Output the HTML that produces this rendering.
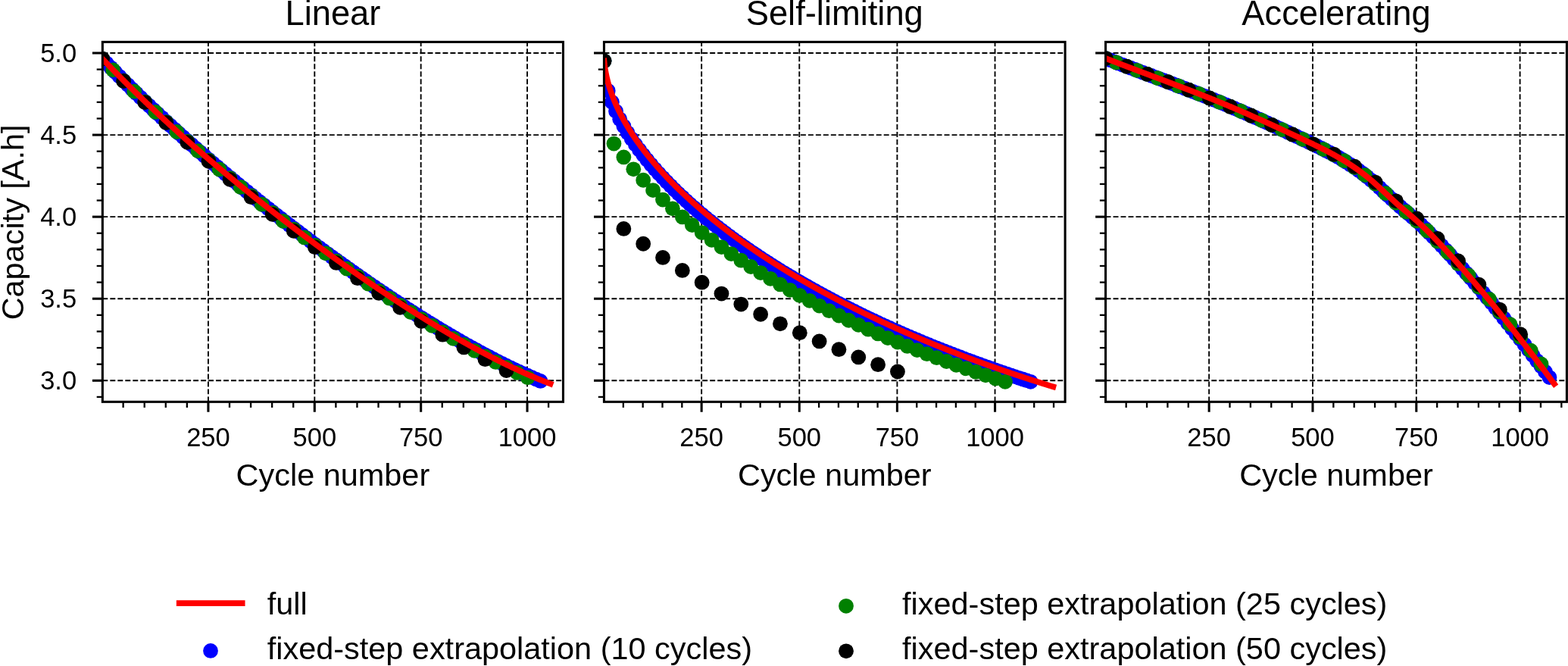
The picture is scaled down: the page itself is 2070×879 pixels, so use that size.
<!DOCTYPE html>
<html><head><meta charset="utf-8"><title>Capacity fade</title>
<style>html,body{margin:0;padding:0;background:#fff;width:2070px;height:879px;overflow:hidden}</style>
</head><body><div style="position:relative;width:2070px;height:879px">
<svg width="2070" height="879" viewBox="0 0 2070 879" style="position:absolute;left:0;top:0"><rect width="100%" height="100%" fill="#fff"/><clipPath id="clip0"><rect x="135.35" y="55.40" width="608.10" height="474.95"/></clipPath><g stroke="#000" stroke-width="1.88" stroke-dasharray="6.97 3.01" fill="none"><line x1="274.93" y1="530.35" x2="274.93" y2="55.40"/><line x1="415.30" y1="530.35" x2="415.30" y2="55.40"/><line x1="555.66" y1="530.35" x2="555.66" y2="55.40"/><line x1="696.03" y1="530.35" x2="696.03" y2="55.40"/><line x1="135.35" y1="502.30" x2="743.45" y2="502.30"/><line x1="135.35" y1="394.23" x2="743.45" y2="394.23"/><line x1="135.35" y1="286.15" x2="743.45" y2="286.15"/><line x1="135.35" y1="178.07" x2="743.45" y2="178.07"/><line x1="135.35" y1="70.00" x2="743.45" y2="70.00"/></g><g clip-path="url(#clip0)"><g fill="#0000ff"><circle cx="135.12" cy="77.56" r="9.90"/><circle cx="140.74" cy="83.45" r="9.90"/><circle cx="146.35" cy="89.28" r="9.90"/><circle cx="151.97" cy="95.06" r="9.90"/><circle cx="157.58" cy="100.78" r="9.90"/><circle cx="163.19" cy="106.45" r="9.90"/><circle cx="168.81" cy="112.07" r="9.90"/><circle cx="174.42" cy="117.64" r="9.90"/><circle cx="180.04" cy="123.16" r="9.90"/><circle cx="185.65" cy="128.64" r="9.90"/><circle cx="191.27" cy="134.06" r="9.90"/><circle cx="196.88" cy="139.44" r="9.90"/><circle cx="202.50" cy="144.78" r="9.90"/><circle cx="208.11" cy="150.08" r="9.90"/><circle cx="213.73" cy="155.33" r="9.90"/><circle cx="219.34" cy="160.54" r="9.90"/><circle cx="224.96" cy="165.71" r="9.90"/><circle cx="230.57" cy="170.84" r="9.90"/><circle cx="236.19" cy="175.93" r="9.90"/><circle cx="241.80" cy="180.99" r="9.90"/><circle cx="247.42" cy="186.00" r="9.90"/><circle cx="253.03" cy="190.99" r="9.90"/><circle cx="258.64" cy="195.93" r="9.90"/><circle cx="264.26" cy="200.85" r="9.90"/><circle cx="269.87" cy="205.72" r="9.90"/><circle cx="275.49" cy="210.57" r="9.90"/><circle cx="281.10" cy="215.39" r="9.90"/><circle cx="286.72" cy="220.17" r="9.90"/><circle cx="292.33" cy="224.92" r="9.90"/><circle cx="297.95" cy="229.64" r="9.90"/><circle cx="303.56" cy="234.33" r="9.90"/><circle cx="309.18" cy="239.00" r="9.90"/><circle cx="314.79" cy="243.63" r="9.90"/><circle cx="320.41" cy="248.24" r="9.90"/><circle cx="326.02" cy="252.82" r="9.90"/><circle cx="331.64" cy="257.37" r="9.90"/><circle cx="337.25" cy="261.89" r="9.90"/><circle cx="342.87" cy="266.39" r="9.90"/><circle cx="348.48" cy="270.87" r="9.90"/><circle cx="354.09" cy="275.31" r="9.90"/><circle cx="359.71" cy="279.74" r="9.90"/><circle cx="365.32" cy="284.14" r="9.90"/><circle cx="370.94" cy="288.51" r="9.90"/><circle cx="376.55" cy="292.86" r="9.90"/><circle cx="382.17" cy="297.18" r="9.90"/><circle cx="387.78" cy="301.48" r="9.90"/><circle cx="393.40" cy="305.76" r="9.90"/><circle cx="399.01" cy="310.01" r="9.90"/><circle cx="404.63" cy="314.24" r="9.90"/><circle cx="410.24" cy="318.45" r="9.90"/><circle cx="415.86" cy="322.63" r="9.90"/><circle cx="421.47" cy="326.79" r="9.90"/><circle cx="427.09" cy="330.93" r="9.90"/><circle cx="432.70" cy="335.05" r="9.90"/><circle cx="438.32" cy="339.14" r="9.90"/><circle cx="443.93" cy="343.20" r="9.90"/><circle cx="449.54" cy="347.25" r="9.90"/><circle cx="455.16" cy="351.27" r="9.90"/><circle cx="460.77" cy="355.26" r="9.90"/><circle cx="466.39" cy="359.23" r="9.90"/><circle cx="472.00" cy="363.18" r="9.90"/><circle cx="477.62" cy="367.11" r="9.90"/><circle cx="483.23" cy="371.00" r="9.90"/><circle cx="488.85" cy="374.88" r="9.90"/><circle cx="494.46" cy="378.73" r="9.90"/><circle cx="500.08" cy="382.55" r="9.90"/><circle cx="505.69" cy="386.35" r="9.90"/><circle cx="511.31" cy="390.12" r="9.90"/><circle cx="516.92" cy="393.86" r="9.90"/><circle cx="522.54" cy="397.58" r="9.90"/><circle cx="528.15" cy="401.27" r="9.90"/><circle cx="533.77" cy="404.93" r="9.90"/><circle cx="539.38" cy="408.56" r="9.90"/><circle cx="544.99" cy="412.17" r="9.90"/><circle cx="550.61" cy="415.74" r="9.90"/><circle cx="556.22" cy="419.29" r="9.90"/><circle cx="561.84" cy="422.80" r="9.90"/><circle cx="567.45" cy="426.28" r="9.90"/><circle cx="573.07" cy="429.73" r="9.90"/><circle cx="578.68" cy="433.14" r="9.90"/><circle cx="584.30" cy="436.53" r="9.90"/><circle cx="589.91" cy="439.87" r="9.90"/><circle cx="595.53" cy="443.19" r="9.90"/><circle cx="601.14" cy="446.46" r="9.90"/><circle cx="606.76" cy="449.70" r="9.90"/><circle cx="612.37" cy="452.90" r="9.90"/><circle cx="617.99" cy="456.07" r="9.90"/><circle cx="623.60" cy="459.19" r="9.90"/><circle cx="629.22" cy="462.27" r="9.90"/><circle cx="634.83" cy="465.32" r="9.90"/><circle cx="640.44" cy="468.31" r="9.90"/><circle cx="646.06" cy="471.27" r="9.90"/><circle cx="651.67" cy="474.18" r="9.90"/><circle cx="657.29" cy="477.05" r="9.90"/><circle cx="662.90" cy="479.87" r="9.90"/><circle cx="668.52" cy="482.64" r="9.90"/><circle cx="674.13" cy="485.36" r="9.90"/><circle cx="679.75" cy="488.03" r="9.90"/><circle cx="685.36" cy="490.65" r="9.90"/><circle cx="690.98" cy="493.22" r="9.90"/><circle cx="696.59" cy="495.73" r="9.90"/><circle cx="702.21" cy="498.19" r="9.90"/><circle cx="707.82" cy="500.59" r="9.90"/><circle cx="713.44" cy="502.94" r="9.90"/></g><g fill="#008000"><circle cx="135.12" cy="77.56" r="9.90"/><circle cx="149.16" cy="92.28" r="9.90"/><circle cx="163.19" cy="106.65" r="9.90"/><circle cx="177.23" cy="120.70" r="9.90"/><circle cx="191.27" cy="134.45" r="9.90"/><circle cx="205.31" cy="147.90" r="9.90"/><circle cx="219.34" cy="161.08" r="9.90"/><circle cx="233.38" cy="174.01" r="9.90"/><circle cx="247.42" cy="186.69" r="9.90"/><circle cx="261.45" cy="199.15" r="9.90"/><circle cx="275.49" cy="211.39" r="9.90"/><circle cx="289.53" cy="223.42" r="9.90"/><circle cx="303.56" cy="235.26" r="9.90"/><circle cx="317.60" cy="246.92" r="9.90"/><circle cx="331.64" cy="258.40" r="9.90"/><circle cx="345.67" cy="269.72" r="9.90"/><circle cx="359.71" cy="280.87" r="9.90"/><circle cx="373.75" cy="291.86" r="9.90"/><circle cx="387.78" cy="302.71" r="9.90"/><circle cx="401.82" cy="313.40" r="9.90"/><circle cx="415.86" cy="323.95" r="9.90"/><circle cx="429.89" cy="334.35" r="9.90"/><circle cx="443.93" cy="344.60" r="9.90"/><circle cx="457.97" cy="354.71" r="9.90"/><circle cx="472.00" cy="364.67" r="9.90"/><circle cx="486.04" cy="374.48" r="9.90"/><circle cx="500.08" cy="384.13" r="9.90"/><circle cx="514.11" cy="393.62" r="9.90"/><circle cx="528.15" cy="402.95" r="9.90"/><circle cx="542.19" cy="412.11" r="9.90"/><circle cx="556.22" cy="421.08" r="9.90"/><circle cx="570.26" cy="429.86" r="9.90"/><circle cx="584.30" cy="438.44" r="9.90"/><circle cx="598.33" cy="446.81" r="9.90"/><circle cx="612.37" cy="454.96" r="9.90"/><circle cx="626.41" cy="462.86" r="9.90"/><circle cx="640.44" cy="470.52" r="9.90"/><circle cx="654.48" cy="477.91" r="9.90"/><circle cx="668.52" cy="485.01" r="9.90"/><circle cx="682.55" cy="491.82" r="9.90"/><circle cx="696.59" cy="498.31" r="9.90"/></g><g fill="#000000"><circle cx="135.12" cy="77.56" r="9.90"/><circle cx="163.19" cy="107.00" r="9.90"/><circle cx="191.27" cy="135.10" r="9.90"/><circle cx="219.34" cy="162.01" r="9.90"/><circle cx="247.42" cy="187.86" r="9.90"/><circle cx="275.49" cy="212.77" r="9.90"/><circle cx="303.56" cy="236.84" r="9.90"/><circle cx="331.64" cy="260.16" r="9.90"/><circle cx="359.71" cy="282.78" r="9.90"/><circle cx="387.78" cy="304.77" r="9.90"/><circle cx="415.86" cy="326.16" r="9.90"/><circle cx="443.93" cy="346.96" r="9.90"/><circle cx="472.00" cy="367.18" r="9.90"/><circle cx="500.08" cy="386.79" r="9.90"/><circle cx="528.15" cy="405.78" r="9.90"/><circle cx="556.22" cy="424.09" r="9.90"/><circle cx="584.30" cy="441.65" r="9.90"/><circle cx="612.37" cy="458.39" r="9.90"/><circle cx="640.44" cy="474.20" r="9.90"/><circle cx="668.52" cy="488.98" r="9.90"/></g><path d="M135.12,77.56 L135.68,78.15 L136.24,78.74 L136.81,79.32 L137.37,79.91 L137.93,80.50 L138.49,81.08 L139.05,81.67 L139.61,82.25 L140.17,82.84 L140.74,83.42 L141.30,84.01 L141.86,84.59 L142.42,85.17 L142.98,85.75 L143.54,86.33 L144.10,86.91 L144.67,87.49 L145.23,88.07 L145.79,88.65 L146.35,89.23 L146.91,89.81 L147.47,90.38 L148.04,90.96 L148.60,91.54 L149.16,92.11 L149.72,92.69 L150.28,93.26 L150.84,93.84 L151.40,94.41 L151.97,94.98 L152.53,95.55 L153.09,96.13 L153.65,96.70 L154.21,97.27 L154.77,97.84 L155.33,98.41 L155.90,98.98 L156.46,99.55 L157.02,100.11 L157.58,100.68 L158.14,101.25 L158.70,101.82 L159.26,102.38 L159.83,102.95 L160.39,103.51 L160.95,104.08 L161.51,104.64 L162.07,105.20 L162.63,105.77 L163.19,106.33 L163.76,106.89 L164.32,107.45 L164.88,108.01 L165.44,108.57 L166.00,109.13 L166.56,109.69 L167.13,110.25 L167.69,110.81 L168.25,111.37 L168.81,111.93 L169.37,112.48 L169.93,113.04 L170.49,113.60 L171.06,114.15 L171.62,114.71 L172.18,115.26 L172.74,115.82 L173.30,116.37 L173.86,116.92 L174.42,117.47 L174.99,118.03 L175.55,118.58 L176.11,119.13 L176.67,119.68 L177.23,120.23 L177.79,120.78 L178.35,121.33 L178.92,121.88 L179.48,122.43 L180.04,122.97 L180.60,123.52 L181.16,124.07 L181.72,124.61 L182.28,125.16 L182.85,125.71 L183.41,126.25 L183.97,126.80 L184.53,127.34 L185.09,127.88 L185.65,128.43 L186.22,128.97 L186.78,129.51 L187.34,130.05 L187.90,130.59 L188.46,131.14 L189.02,131.68 L189.58,132.22 L190.15,132.76 L190.71,133.29 L191.27,133.83 L191.83,134.37 L192.39,134.91 L192.95,135.45 L193.51,135.98 L194.08,136.52 L194.64,137.06 L195.20,137.59 L195.76,138.13 L196.32,138.66 L196.88,139.19 L197.44,139.73 L198.01,140.26 L198.57,140.79 L199.13,141.33 L199.69,141.86 L200.25,142.39 L200.81,142.92 L201.37,143.45 L201.94,143.98 L202.50,144.51 L203.06,145.04 L203.62,145.57 L204.18,146.10 L204.74,146.63 L205.31,147.16 L205.87,147.68 L206.43,148.21 L206.99,148.74 L207.55,149.26 L208.11,149.79 L208.67,150.31 L209.24,150.84 L209.80,151.36 L210.36,151.89 L210.92,152.41 L211.48,152.93 L212.04,153.46 L212.60,153.98 L213.17,154.50 L213.73,155.02 L214.29,155.54 L214.85,156.06 L215.41,156.58 L215.97,157.10 L216.53,157.62 L217.10,158.14 L217.66,158.66 L218.22,159.18 L218.78,159.70 L219.34,160.21 L219.90,160.73 L220.46,161.25 L221.03,161.76 L221.59,162.28 L222.15,162.79 L222.71,163.31 L223.27,163.82 L223.83,164.34 L224.40,164.85 L224.96,165.37 L225.52,165.88 L226.08,166.39 L226.64,166.90 L227.20,167.42 L227.76,167.93 L228.33,168.44 L228.89,168.95 L229.45,169.46 L230.01,169.97 L230.57,170.48 L231.13,170.99 L231.69,171.50 L232.26,172.01 L232.82,172.51 L233.38,173.02 L233.94,173.53 L234.50,174.04 L235.06,174.54 L235.62,175.05 L236.19,175.55 L236.75,176.06 L237.31,176.56 L237.87,177.07 L238.43,177.57 L238.99,178.08 L239.55,178.58 L240.12,179.08 L240.68,179.59 L241.24,180.09 L241.80,180.59 L242.36,181.09 L242.92,181.60 L243.49,182.10 L244.05,182.60 L244.61,183.10 L245.17,183.60 L245.73,184.10 L246.29,184.60 L246.85,185.10 L247.42,185.59 L247.98,186.09 L248.54,186.59 L249.10,187.09 L249.66,187.59 L250.22,188.08 L250.78,188.58 L251.35,189.07 L251.91,189.57 L252.47,190.07 L253.03,190.56 L253.59,191.06 L254.15,191.55 L254.71,192.04 L255.28,192.54 L255.84,193.03 L256.40,193.52 L256.96,194.02 L257.52,194.51 L258.08,195.00 L258.64,195.49 L259.21,195.98 L259.77,196.47 L260.33,196.97 L260.89,197.46 L261.45,197.95 L262.01,198.43 L262.58,198.92 L263.14,199.41 L263.70,199.90 L264.26,200.39 L264.82,200.88 L265.38,201.37 L265.94,201.85 L266.51,202.34 L267.07,202.83 L267.63,203.31 L268.19,203.80 L268.75,204.28 L269.31,204.77 L269.87,205.25 L270.44,205.74 L271.00,206.22 L271.56,206.71 L272.12,207.19 L272.68,207.67 L273.24,208.16 L273.80,208.64 L274.37,209.12 L274.93,209.60 L275.49,210.09 L276.05,210.57 L276.61,211.05 L277.17,211.53 L277.73,212.01 L278.30,212.49 L278.86,212.97 L279.42,213.45 L279.98,213.93 L280.54,214.41 L281.10,214.89 L281.67,215.36 L282.23,215.84 L282.79,216.32 L283.35,216.80 L283.91,217.27 L284.47,217.75 L285.03,218.23 L285.60,218.70 L286.16,219.18 L286.72,219.65 L287.28,220.13 L287.84,220.60 L288.40,221.08 L288.96,221.55 L289.53,222.03 L290.09,222.50 L290.65,222.97 L291.21,223.45 L291.77,223.92 L292.33,224.39 L292.89,224.87 L293.46,225.34 L294.02,225.81 L294.58,226.28 L295.14,226.75 L295.70,227.22 L296.26,227.69 L296.82,228.16 L297.39,228.63 L297.95,229.10 L298.51,229.57 L299.07,230.04 L299.63,230.51 L300.19,230.98 L300.76,231.44 L301.32,231.91 L301.88,232.38 L302.44,232.85 L303.00,233.31 L303.56,233.78 L304.12,234.25 L304.69,234.71 L305.25,235.18 L305.81,235.64 L306.37,236.11 L306.93,236.57 L307.49,237.04 L308.05,237.50 L308.62,237.97 L309.18,238.43 L309.74,238.89 L310.30,239.36 L310.86,239.82 L311.42,240.28 L311.98,240.75 L312.55,241.21 L313.11,241.67 L313.67,242.13 L314.23,242.59 L314.79,243.05 L315.35,243.51 L315.91,243.97 L316.48,244.43 L317.04,244.89 L317.60,245.35 L318.16,245.81 L318.72,246.27 L319.28,246.73 L319.85,247.19 L320.41,247.65 L320.97,248.10 L321.53,248.56 L322.09,249.02 L322.65,249.48 L323.21,249.93 L323.78,250.39 L324.34,250.85 L324.90,251.30 L325.46,251.76 L326.02,252.21 L326.58,252.67 L327.14,253.12 L327.71,253.58 L328.27,254.03 L328.83,254.49 L329.39,254.94 L329.95,255.39 L330.51,255.85 L331.07,256.30 L331.64,256.75 L332.20,257.21 L332.76,257.66 L333.32,258.11 L333.88,258.56 L334.44,259.01 L335.00,259.46 L335.57,259.92 L336.13,260.37 L336.69,260.82 L337.25,261.27 L337.81,261.72 L338.37,262.17 L338.94,262.62 L339.50,263.07 L340.06,263.51 L340.62,263.96 L341.18,264.41 L341.74,264.86 L342.30,265.31 L342.87,265.75 L343.43,266.20 L343.99,266.65 L344.55,267.10 L345.11,267.54 L345.67,267.99 L346.23,268.43 L346.80,268.88 L347.36,269.33 L347.92,269.77 L348.48,270.22 L349.04,270.66 L349.60,271.11 L350.16,271.55 L350.73,271.99 L351.29,272.44 L351.85,272.88 L352.41,273.32 L352.97,273.77 L353.53,274.21 L354.09,274.65 L354.66,275.10 L355.22,275.54 L355.78,275.98 L356.34,276.42 L356.90,276.86 L357.46,277.30 L358.03,277.74 L358.59,278.18 L359.15,278.62 L359.71,279.06 L360.27,279.50 L360.83,279.94 L361.39,280.38 L361.96,280.82 L362.52,281.26 L363.08,281.70 L363.64,282.14 L364.20,282.58 L364.76,283.01 L365.32,283.45 L365.89,283.89 L366.45,284.33 L367.01,284.76 L367.57,285.20 L368.13,285.64 L368.69,286.07 L369.25,286.51 L369.82,286.94 L370.38,287.38 L370.94,287.81 L371.50,288.25 L372.06,288.68 L372.62,289.12 L373.18,289.55 L373.75,289.99 L374.31,290.42 L374.87,290.85 L375.43,291.29 L375.99,291.72 L376.55,292.15 L377.12,292.58 L377.68,293.02 L378.24,293.45 L378.80,293.88 L379.36,294.31 L379.92,294.74 L380.48,295.17 L381.05,295.60 L381.61,296.04 L382.17,296.47 L382.73,296.90 L383.29,297.33 L383.85,297.76 L384.41,298.18 L384.98,298.61 L385.54,299.04 L386.10,299.47 L386.66,299.90 L387.22,300.33 L387.78,300.76 L388.34,301.18 L388.91,301.61 L389.47,302.04 L390.03,302.47 L390.59,302.89 L391.15,303.32 L391.71,303.74 L392.27,304.17 L392.84,304.60 L393.40,305.02 L393.96,305.45 L394.52,305.87 L395.08,306.30 L395.64,306.72 L396.21,307.15 L396.77,307.57 L397.33,308.00 L397.89,308.42 L398.45,308.84 L399.01,309.27 L399.57,309.69 L400.14,310.11 L400.70,310.53 L401.26,310.96 L401.82,311.38 L402.38,311.80 L402.94,312.22 L403.50,312.64 L404.07,313.06 L404.63,313.49 L405.19,313.91 L405.75,314.33 L406.31,314.75 L406.87,315.17 L407.43,315.59 L408.00,316.01 L408.56,316.42 L409.12,316.84 L409.68,317.26 L410.24,317.68 L410.80,318.10 L411.36,318.52 L411.93,318.94 L412.49,319.35 L413.05,319.77 L413.61,320.19 L414.17,320.60 L414.73,321.02 L415.30,321.44 L415.86,321.85 L416.42,322.27 L416.98,322.69 L417.54,323.10 L418.10,323.52 L418.66,323.93 L419.23,324.35 L419.79,324.76 L420.35,325.18 L420.91,325.59 L421.47,326.00 L422.03,326.42 L422.59,326.83 L423.16,327.24 L423.72,327.66 L424.28,328.07 L424.84,328.48 L425.40,328.89 L425.96,329.31 L426.52,329.72 L427.09,330.13 L427.65,330.54 L428.21,330.95 L428.77,331.36 L429.33,331.77 L429.89,332.18 L430.45,332.60 L431.02,333.01 L431.58,333.41 L432.14,333.82 L432.70,334.23 L433.26,334.64 L433.82,335.05 L434.38,335.46 L434.95,335.87 L435.51,336.28 L436.07,336.68 L436.63,337.09 L437.19,337.50 L437.75,337.91 L438.32,338.31 L438.88,338.72 L439.44,339.13 L440.00,339.53 L440.56,339.94 L441.12,340.34 L441.68,340.75 L442.25,341.16 L442.81,341.56 L443.37,341.97 L443.93,342.37 L444.49,342.77 L445.05,343.18 L445.61,343.58 L446.18,343.99 L446.74,344.39 L447.30,344.79 L447.86,345.20 L448.42,345.60 L448.98,346.00 L449.54,346.40 L450.11,346.80 L450.67,347.21 L451.23,347.61 L451.79,348.01 L452.35,348.41 L452.91,348.81 L453.47,349.21 L454.04,349.61 L454.60,350.01 L455.16,350.41 L455.72,350.81 L456.28,351.21 L456.84,351.61 L457.41,352.01 L457.97,352.41 L458.53,352.81 L459.09,353.20 L459.65,353.60 L460.21,354.00 L460.77,354.40 L461.34,354.79 L461.90,355.19 L462.46,355.59 L463.02,355.98 L463.58,356.38 L464.14,356.78 L464.70,357.17 L465.27,357.57 L465.83,357.96 L466.39,358.36 L466.95,358.75 L467.51,359.15 L468.07,359.54 L468.63,359.94 L469.20,360.33 L469.76,360.72 L470.32,361.12 L470.88,361.51 L471.44,361.90 L472.00,362.29 L472.56,362.69 L473.13,363.08 L473.69,363.47 L474.25,363.86 L474.81,364.25 L475.37,364.65 L475.93,365.04 L476.50,365.43 L477.06,365.82 L477.62,366.21 L478.18,366.60 L478.74,366.99 L479.30,367.38 L479.86,367.77 L480.43,368.15 L480.99,368.54 L481.55,368.93 L482.11,369.32 L482.67,369.71 L483.23,370.10 L483.79,370.48 L484.36,370.87 L484.92,371.26 L485.48,371.64 L486.04,372.03 L486.60,372.42 L487.16,372.80 L487.72,373.19 L488.29,373.57 L488.85,373.96 L489.41,374.34 L489.97,374.73 L490.53,375.11 L491.09,375.50 L491.65,375.88 L492.22,376.26 L492.78,376.65 L493.34,377.03 L493.90,377.41 L494.46,377.80 L495.02,378.18 L495.59,378.56 L496.15,378.94 L496.71,379.32 L497.27,379.70 L497.83,380.09 L498.39,380.47 L498.95,380.85 L499.52,381.23 L500.08,381.61 L500.64,381.99 L501.20,382.37 L501.76,382.75 L502.32,383.12 L502.88,383.50 L503.45,383.88 L504.01,384.26 L504.57,384.64 L505.13,385.01 L505.69,385.39 L506.25,385.77 L506.81,386.15 L507.38,386.52 L507.94,386.90 L508.50,387.28 L509.06,387.65 L509.62,388.03 L510.18,388.40 L510.74,388.78 L511.31,389.15 L511.87,389.53 L512.43,389.90 L512.99,390.27 L513.55,390.65 L514.11,391.02 L514.68,391.39 L515.24,391.77 L515.80,392.14 L516.36,392.51 L516.92,392.88 L517.48,393.26 L518.04,393.63 L518.61,394.00 L519.17,394.37 L519.73,394.74 L520.29,395.11 L520.85,395.48 L521.41,395.85 L521.97,396.22 L522.54,396.59 L523.10,396.96 L523.66,397.33 L524.22,397.69 L524.78,398.06 L525.34,398.43 L525.90,398.80 L526.47,399.17 L527.03,399.53 L527.59,399.90 L528.15,400.27 L528.71,400.63 L529.27,401.00 L529.83,401.36 L530.40,401.73 L530.96,402.09 L531.52,402.46 L532.08,402.82 L532.64,403.19 L533.20,403.55 L533.77,403.91 L534.33,404.28 L534.89,404.64 L535.45,405.00 L536.01,405.37 L536.57,405.73 L537.13,406.09 L537.70,406.45 L538.26,406.81 L538.82,407.17 L539.38,407.53 L539.94,407.89 L540.50,408.25 L541.06,408.61 L541.63,408.97 L542.19,409.33 L542.75,409.69 L543.31,410.05 L543.87,410.41 L544.43,410.77 L544.99,411.12 L545.56,411.48 L546.12,411.84 L546.68,412.20 L547.24,412.55 L547.80,412.91 L548.36,413.26 L548.92,413.62 L549.49,413.98 L550.05,414.33 L550.61,414.68 L551.17,415.04 L551.73,415.39 L552.29,415.75 L552.86,416.10 L553.42,416.45 L553.98,416.81 L554.54,417.16 L555.10,417.51 L555.66,417.86 L556.22,418.21 L556.79,418.57 L557.35,418.92 L557.91,419.27 L558.47,419.62 L559.03,419.97 L559.59,420.32 L560.15,420.67 L560.72,421.02 L561.28,421.36 L561.84,421.71 L562.40,422.06 L562.96,422.41 L563.52,422.76 L564.08,423.10 L564.65,423.45 L565.21,423.80 L565.77,424.14 L566.33,424.49 L566.89,424.83 L567.45,425.18 L568.01,425.52 L568.58,425.87 L569.14,426.21 L569.70,426.56 L570.26,426.90 L570.82,427.24 L571.38,427.59 L571.95,427.93 L572.51,428.27 L573.07,428.61 L573.63,428.96 L574.19,429.30 L574.75,429.64 L575.31,429.98 L575.88,430.32 L576.44,430.66 L577.00,431.00 L577.56,431.34 L578.12,431.68 L578.68,432.01 L579.24,432.35 L579.81,432.69 L580.37,433.03 L580.93,433.37 L581.49,433.70 L582.05,434.04 L582.61,434.38 L583.17,434.71 L583.74,435.05 L584.30,435.38 L584.86,435.72 L585.42,436.05 L585.98,436.38 L586.54,436.72 L587.10,437.05 L587.67,437.38 L588.23,437.72 L588.79,438.05 L589.35,438.38 L589.91,438.71 L590.47,439.04 L591.04,439.38 L591.60,439.71 L592.16,440.04 L592.72,440.37 L593.28,440.70 L593.84,441.02 L594.40,441.35 L594.97,441.68 L595.53,442.01 L596.09,442.34 L596.65,442.66 L597.21,442.99 L597.77,443.32 L598.33,443.64 L598.90,443.97 L599.46,444.30 L600.02,444.62 L600.58,444.95 L601.14,445.27 L601.70,445.59 L602.26,445.92 L602.83,446.24 L603.39,446.56 L603.95,446.89 L604.51,447.21 L605.07,447.53 L605.63,447.85 L606.19,448.17 L606.76,448.49 L607.32,448.81 L607.88,449.13 L608.44,449.45 L609.00,449.77 L609.56,450.09 L610.13,450.41 L610.69,450.73 L611.25,451.04 L611.81,451.36 L612.37,451.68 L612.93,451.99 L613.49,452.31 L614.06,452.62 L614.62,452.94 L615.18,453.25 L615.74,453.57 L616.30,453.88 L616.86,454.20 L617.42,454.51 L617.99,454.82 L618.55,455.13 L619.11,455.45 L619.67,455.76 L620.23,456.07 L620.79,456.38 L621.35,456.69 L621.92,457.00 L622.48,457.31 L623.04,457.62 L623.60,457.93 L624.16,458.24 L624.72,458.54 L625.28,458.85 L625.85,459.16 L626.41,459.46 L626.97,459.77 L627.53,460.08 L628.09,460.38 L628.65,460.69 L629.22,460.99 L629.78,461.30 L630.34,461.60 L630.90,461.90 L631.46,462.21 L632.02,462.51 L632.58,462.81 L633.15,463.11 L633.71,463.41 L634.27,463.71 L634.83,464.01 L635.39,464.31 L635.95,464.61 L636.51,464.91 L637.08,465.21 L637.64,465.51 L638.20,465.81 L638.76,466.10 L639.32,466.40 L639.88,466.70 L640.44,466.99 L641.01,467.29 L641.57,467.58 L642.13,467.88 L642.69,468.17 L643.25,468.47 L643.81,468.76 L644.37,469.05 L644.94,469.35 L645.50,469.64 L646.06,469.93 L646.62,470.22 L647.18,470.51 L647.74,470.80 L648.31,471.09 L648.87,471.38 L649.43,471.67 L649.99,471.96 L650.55,472.25 L651.11,472.53 L651.67,472.82 L652.24,473.11 L652.80,473.39 L653.36,473.68 L653.92,473.96 L654.48,474.25 L655.04,474.53 L655.60,474.82 L656.17,475.10 L656.73,475.38 L657.29,475.67 L657.85,475.95 L658.41,476.23 L658.97,476.51 L659.53,476.79 L660.10,477.07 L660.66,477.35 L661.22,477.63 L661.78,477.91 L662.34,478.18 L662.90,478.46 L663.46,478.74 L664.03,479.02 L664.59,479.29 L665.15,479.57 L665.71,479.84 L666.27,480.12 L666.83,480.39 L667.40,480.67 L667.96,480.94 L668.52,481.21 L669.08,481.48 L669.64,481.76 L670.20,482.03 L670.76,482.30 L671.33,482.57 L671.89,482.84 L672.45,483.11 L673.01,483.38 L673.57,483.64 L674.13,483.91 L674.69,484.18 L675.26,484.44 L675.82,484.71 L676.38,484.98 L676.94,485.24 L677.50,485.51 L678.06,485.77 L678.62,486.03 L679.19,486.30 L679.75,486.56 L680.31,486.82 L680.87,487.08 L681.43,487.34 L681.99,487.60 L682.55,487.86 L683.12,488.12 L683.68,488.38 L684.24,488.64 L684.80,488.90 L685.36,489.16 L685.92,489.41 L686.49,489.67 L687.05,489.93 L687.61,490.18 L688.17,490.44 L688.73,490.69 L689.29,490.94 L689.85,491.20 L690.42,491.45 L690.98,491.70 L691.54,491.95 L692.10,492.20 L692.66,492.45 L693.22,492.70 L693.78,492.95 L694.35,493.20 L694.91,493.45 L695.47,493.70 L696.03,493.94 L696.59,494.19 L697.15,494.44 L697.71,494.68 L698.28,494.93 L698.84,495.17 L699.40,495.41 L699.96,495.66 L700.52,495.90 L701.08,496.14 L701.64,496.38 L702.21,496.62 L702.77,496.86 L703.33,497.10 L703.89,497.34 L704.45,497.58 L705.01,497.82 L705.57,498.06 L706.14,498.29 L706.70,498.53 L707.26,498.76 L707.82,499.00 L708.38,499.23 L708.94,499.47 L709.51,499.70 L710.07,499.93 L710.63,500.17 L711.19,500.40 L711.75,500.63 L712.31,500.86 L712.87,501.09 L713.44,501.32 L714.00,501.55 L714.56,501.77 L715.12,502.00 L715.68,502.23 L716.24,502.45 L716.80,502.68 L717.37,502.91 L717.93,503.13 L718.49,503.35 L719.05,503.58 L719.61,503.80 L720.17,504.02 L720.73,504.24 L721.30,504.46 L721.86,504.68 L722.42,504.90 L722.98,505.12 L723.54,505.34 L724.10,505.56 L724.66,505.77 L725.23,505.99 L725.79,506.21 L726.35,506.42 L726.63,506.53" fill="none" stroke="#ff0000" stroke-width="7.67" stroke-linecap="square" stroke-linejoin="round"/></g><g stroke="#000" fill="none"><line x1="162.63" y1="530.35" x2="162.63" y2="538.02" stroke-width="2.30"/><line x1="190.71" y1="530.35" x2="190.71" y2="538.02" stroke-width="2.30"/><line x1="218.78" y1="530.35" x2="218.78" y2="538.02" stroke-width="2.30"/><line x1="246.85" y1="530.35" x2="246.85" y2="538.02" stroke-width="2.30"/><line x1="274.93" y1="530.35" x2="274.93" y2="543.77" stroke-width="3.07"/><line x1="303.00" y1="530.35" x2="303.00" y2="538.02" stroke-width="2.30"/><line x1="331.07" y1="530.35" x2="331.07" y2="538.02" stroke-width="2.30"/><line x1="359.15" y1="530.35" x2="359.15" y2="538.02" stroke-width="2.30"/><line x1="387.22" y1="530.35" x2="387.22" y2="538.02" stroke-width="2.30"/><line x1="415.30" y1="530.35" x2="415.30" y2="543.77" stroke-width="3.07"/><line x1="443.37" y1="530.35" x2="443.37" y2="538.02" stroke-width="2.30"/><line x1="471.44" y1="530.35" x2="471.44" y2="538.02" stroke-width="2.30"/><line x1="499.52" y1="530.35" x2="499.52" y2="538.02" stroke-width="2.30"/><line x1="527.59" y1="530.35" x2="527.59" y2="538.02" stroke-width="2.30"/><line x1="555.66" y1="530.35" x2="555.66" y2="543.77" stroke-width="3.07"/><line x1="583.74" y1="530.35" x2="583.74" y2="538.02" stroke-width="2.30"/><line x1="611.81" y1="530.35" x2="611.81" y2="538.02" stroke-width="2.30"/><line x1="639.88" y1="530.35" x2="639.88" y2="538.02" stroke-width="2.30"/><line x1="667.96" y1="530.35" x2="667.96" y2="538.02" stroke-width="2.30"/><line x1="696.03" y1="530.35" x2="696.03" y2="543.77" stroke-width="3.07"/><line x1="724.10" y1="530.35" x2="724.10" y2="538.02" stroke-width="2.30"/><line x1="135.35" y1="523.92" x2="127.68" y2="523.92" stroke-width="2.30"/><line x1="135.35" y1="502.30" x2="121.93" y2="502.30" stroke-width="3.07"/><line x1="135.35" y1="480.69" x2="127.68" y2="480.69" stroke-width="2.30"/><line x1="135.35" y1="459.07" x2="127.68" y2="459.07" stroke-width="2.30"/><line x1="135.35" y1="437.46" x2="127.68" y2="437.46" stroke-width="2.30"/><line x1="135.35" y1="415.84" x2="127.68" y2="415.84" stroke-width="2.30"/><line x1="135.35" y1="394.23" x2="121.93" y2="394.23" stroke-width="3.07"/><line x1="135.35" y1="372.61" x2="127.68" y2="372.61" stroke-width="2.30"/><line x1="135.35" y1="351.00" x2="127.68" y2="351.00" stroke-width="2.30"/><line x1="135.35" y1="329.38" x2="127.68" y2="329.38" stroke-width="2.30"/><line x1="135.35" y1="307.76" x2="127.68" y2="307.76" stroke-width="2.30"/><line x1="135.35" y1="286.15" x2="121.93" y2="286.15" stroke-width="3.07"/><line x1="135.35" y1="264.54" x2="127.68" y2="264.54" stroke-width="2.30"/><line x1="135.35" y1="242.92" x2="127.68" y2="242.92" stroke-width="2.30"/><line x1="135.35" y1="221.31" x2="127.68" y2="221.31" stroke-width="2.30"/><line x1="135.35" y1="199.69" x2="127.68" y2="199.69" stroke-width="2.30"/><line x1="135.35" y1="178.07" x2="121.93" y2="178.07" stroke-width="3.07"/><line x1="135.35" y1="156.46" x2="127.68" y2="156.46" stroke-width="2.30"/><line x1="135.35" y1="134.84" x2="127.68" y2="134.84" stroke-width="2.30"/><line x1="135.35" y1="113.23" x2="127.68" y2="113.23" stroke-width="2.30"/><line x1="135.35" y1="91.61" x2="127.68" y2="91.61" stroke-width="2.30"/><line x1="135.35" y1="70.00" x2="121.93" y2="70.00" stroke-width="3.07"/></g><rect x="135.35" y="55.40" width="608.10" height="474.95" fill="none" stroke="#000" stroke-width="3.07" stroke-linejoin="miter"/><g font-family="'Liberation Sans', Arial, Helvetica, sans-serif" font-size="34.50" fill="#000"><text x="274.93" y="589.3" text-anchor="middle">250</text><text x="415.30" y="589.3" text-anchor="middle">500</text><text x="555.66" y="589.3" text-anchor="middle">750</text><text x="696.03" y="589.3" text-anchor="middle">1000</text></g><g font-family="'Liberation Sans', Arial, Helvetica, sans-serif" font-size="34.50" fill="#000"><text x="101.1" y="514.35" text-anchor="end">3.0</text><text x="101.1" y="406.28" text-anchor="end">3.5</text><text x="101.1" y="298.20" text-anchor="end">4.0</text><text x="101.1" y="190.12" text-anchor="end">4.5</text><text x="101.1" y="82.05" text-anchor="end">5.0</text></g><text x="439.40" y="641.2" text-anchor="middle" font-family="'Liberation Sans', Arial, Helvetica, sans-serif" font-size="41.45" fill="#000">Cycle number</text><text x="439.40" y="32.9" text-anchor="middle" font-family="'Liberation Sans', Arial, Helvetica, sans-serif" font-size="45.3" fill="#000">Linear</text><clipPath id="clip1"><rect x="797.45" y="55.40" width="608.65" height="474.95"/></clipPath><g stroke="#000" stroke-width="1.88" stroke-dasharray="6.97 3.01" fill="none"><line x1="926.15" y1="530.35" x2="926.15" y2="55.40"/><line x1="1055.28" y1="530.35" x2="1055.28" y2="55.40"/><line x1="1184.41" y1="530.35" x2="1184.41" y2="55.40"/><line x1="1313.54" y1="530.35" x2="1313.54" y2="55.40"/><line x1="797.45" y1="502.30" x2="1406.10" y2="502.30"/><line x1="797.45" y1="394.23" x2="1406.10" y2="394.23"/><line x1="797.45" y1="286.15" x2="1406.10" y2="286.15"/><line x1="797.45" y1="178.07" x2="1406.10" y2="178.07"/><line x1="797.45" y1="70.00" x2="1406.10" y2="70.00"/></g><g clip-path="url(#clip1)"><g fill="#0000ff"><circle cx="797.54" cy="80.40" r="9.90"/><circle cx="802.70" cy="119.74" r="9.90"/><circle cx="807.87" cy="134.80" r="9.90"/><circle cx="813.03" cy="146.82" r="9.90"/><circle cx="818.20" cy="157.23" r="9.90"/><circle cx="823.36" cy="166.58" r="9.90"/><circle cx="828.53" cy="175.15" r="9.90"/><circle cx="833.69" cy="183.13" r="9.90"/><circle cx="838.86" cy="190.63" r="9.90"/><circle cx="844.02" cy="197.73" r="9.90"/><circle cx="849.19" cy="204.49" r="9.90"/><circle cx="854.35" cy="210.96" r="9.90"/><circle cx="859.52" cy="217.17" r="9.90"/><circle cx="864.68" cy="223.16" r="9.90"/><circle cx="869.85" cy="228.94" r="9.90"/><circle cx="875.01" cy="234.54" r="9.90"/><circle cx="880.18" cy="239.97" r="9.90"/><circle cx="885.34" cy="245.25" r="9.90"/><circle cx="890.51" cy="250.38" r="9.90"/><circle cx="895.68" cy="255.39" r="9.90"/><circle cx="900.84" cy="260.27" r="9.90"/><circle cx="906.01" cy="265.04" r="9.90"/><circle cx="911.17" cy="269.70" r="9.90"/><circle cx="916.34" cy="274.26" r="9.90"/><circle cx="921.50" cy="278.73" r="9.90"/><circle cx="926.67" cy="283.11" r="9.90"/><circle cx="931.83" cy="287.40" r="9.90"/><circle cx="937.00" cy="291.62" r="9.90"/><circle cx="942.16" cy="295.75" r="9.90"/><circle cx="947.33" cy="299.82" r="9.90"/><circle cx="952.49" cy="303.81" r="9.90"/><circle cx="957.66" cy="307.73" r="9.90"/><circle cx="962.82" cy="311.59" r="9.90"/><circle cx="967.99" cy="315.39" r="9.90"/><circle cx="973.15" cy="319.13" r="9.90"/><circle cx="978.32" cy="322.82" r="9.90"/><circle cx="983.48" cy="326.44" r="9.90"/><circle cx="988.65" cy="330.02" r="9.90"/><circle cx="993.81" cy="333.54" r="9.90"/><circle cx="998.98" cy="337.01" r="9.90"/><circle cx="1004.14" cy="340.44" r="9.90"/><circle cx="1009.31" cy="343.81" r="9.90"/><circle cx="1014.47" cy="347.15" r="9.90"/><circle cx="1019.64" cy="350.43" r="9.90"/><circle cx="1024.81" cy="353.68" r="9.90"/><circle cx="1029.97" cy="356.88" r="9.90"/><circle cx="1035.14" cy="360.04" r="9.90"/><circle cx="1040.30" cy="363.17" r="9.90"/><circle cx="1045.47" cy="366.25" r="9.90"/><circle cx="1050.63" cy="369.30" r="9.90"/><circle cx="1055.80" cy="372.31" r="9.90"/><circle cx="1060.96" cy="375.28" r="9.90"/><circle cx="1066.13" cy="378.22" r="9.90"/><circle cx="1071.29" cy="381.13" r="9.90"/><circle cx="1076.46" cy="384.00" r="9.90"/><circle cx="1081.62" cy="386.84" r="9.90"/><circle cx="1086.79" cy="389.64" r="9.90"/><circle cx="1091.95" cy="392.42" r="9.90"/><circle cx="1097.12" cy="395.16" r="9.90"/><circle cx="1102.28" cy="397.88" r="9.90"/><circle cx="1107.45" cy="400.56" r="9.90"/><circle cx="1112.61" cy="403.22" r="9.90"/><circle cx="1117.78" cy="405.84" r="9.90"/><circle cx="1122.94" cy="408.44" r="9.90"/><circle cx="1128.11" cy="411.01" r="9.90"/><circle cx="1133.27" cy="413.56" r="9.90"/><circle cx="1138.44" cy="416.08" r="9.90"/><circle cx="1143.60" cy="418.57" r="9.90"/><circle cx="1148.77" cy="421.03" r="9.90"/><circle cx="1153.94" cy="423.47" r="9.90"/><circle cx="1159.10" cy="425.89" r="9.90"/><circle cx="1164.27" cy="428.28" r="9.90"/><circle cx="1169.43" cy="430.65" r="9.90"/><circle cx="1174.60" cy="432.99" r="9.90"/><circle cx="1179.76" cy="435.31" r="9.90"/><circle cx="1184.93" cy="437.60" r="9.90"/><circle cx="1190.09" cy="439.88" r="9.90"/><circle cx="1195.26" cy="442.13" r="9.90"/><circle cx="1200.42" cy="444.36" r="9.90"/><circle cx="1205.59" cy="446.57" r="9.90"/><circle cx="1210.75" cy="448.75" r="9.90"/><circle cx="1215.92" cy="450.92" r="9.90"/><circle cx="1221.08" cy="453.06" r="9.90"/><circle cx="1226.25" cy="455.18" r="9.90"/><circle cx="1231.41" cy="457.28" r="9.90"/><circle cx="1236.58" cy="459.37" r="9.90"/><circle cx="1241.74" cy="461.43" r="9.90"/><circle cx="1246.91" cy="463.47" r="9.90"/><circle cx="1252.07" cy="465.49" r="9.90"/><circle cx="1257.24" cy="467.50" r="9.90"/><circle cx="1262.40" cy="469.48" r="9.90"/><circle cx="1267.57" cy="471.45" r="9.90"/><circle cx="1272.73" cy="473.39" r="9.90"/><circle cx="1277.90" cy="475.32" r="9.90"/><circle cx="1283.07" cy="477.23" r="9.90"/><circle cx="1288.23" cy="479.13" r="9.90"/><circle cx="1293.40" cy="481.00" r="9.90"/><circle cx="1298.56" cy="482.86" r="9.90"/><circle cx="1303.73" cy="484.70" r="9.90"/><circle cx="1308.89" cy="486.52" r="9.90"/><circle cx="1314.06" cy="488.32" r="9.90"/><circle cx="1319.22" cy="490.11" r="9.90"/><circle cx="1324.39" cy="491.88" r="9.90"/><circle cx="1329.55" cy="493.64" r="9.90"/><circle cx="1334.72" cy="495.37" r="9.90"/><circle cx="1339.88" cy="497.09" r="9.90"/><circle cx="1345.05" cy="498.80" r="9.90"/><circle cx="1350.21" cy="500.49" r="9.90"/><circle cx="1355.38" cy="502.16" r="9.90"/><circle cx="1360.54" cy="503.82" r="9.90"/></g><g fill="#008000"><circle cx="797.54" cy="80.40" r="9.90"/><circle cx="810.45" cy="189.56" r="9.90"/><circle cx="823.36" cy="207.44" r="9.90"/><circle cx="836.28" cy="223.32" r="9.90"/><circle cx="849.19" cy="237.76" r="9.90"/><circle cx="862.10" cy="251.11" r="9.90"/><circle cx="875.01" cy="263.57" r="9.90"/><circle cx="887.93" cy="275.31" r="9.90"/><circle cx="900.84" cy="286.43" r="9.90"/><circle cx="913.75" cy="297.01" r="9.90"/><circle cx="926.67" cy="307.11" r="9.90"/><circle cx="939.58" cy="316.79" r="9.90"/><circle cx="952.49" cy="326.08" r="9.90"/><circle cx="965.41" cy="335.03" r="9.90"/><circle cx="978.32" cy="343.66" r="9.90"/><circle cx="991.23" cy="352.00" r="9.90"/><circle cx="1004.14" cy="360.06" r="9.90"/><circle cx="1017.06" cy="367.86" r="9.90"/><circle cx="1029.97" cy="375.43" r="9.90"/><circle cx="1042.88" cy="382.78" r="9.90"/><circle cx="1055.80" cy="389.91" r="9.90"/><circle cx="1068.71" cy="396.84" r="9.90"/><circle cx="1081.62" cy="403.58" r="9.90"/><circle cx="1094.54" cy="410.13" r="9.90"/><circle cx="1107.45" cy="416.52" r="9.90"/><circle cx="1120.36" cy="422.73" r="9.90"/><circle cx="1133.27" cy="428.79" r="9.90"/><circle cx="1146.19" cy="434.70" r="9.90"/><circle cx="1159.10" cy="440.45" r="9.90"/><circle cx="1172.01" cy="446.07" r="9.90"/><circle cx="1184.93" cy="451.54" r="9.90"/><circle cx="1197.84" cy="456.89" r="9.90"/><circle cx="1210.75" cy="462.10" r="9.90"/><circle cx="1223.67" cy="467.19" r="9.90"/><circle cx="1236.58" cy="472.16" r="9.90"/><circle cx="1249.49" cy="477.01" r="9.90"/><circle cx="1262.40" cy="481.75" r="9.90"/><circle cx="1275.32" cy="486.37" r="9.90"/><circle cx="1288.23" cy="490.88" r="9.90"/><circle cx="1301.14" cy="495.29" r="9.90"/><circle cx="1314.06" cy="499.60" r="9.90"/><circle cx="1326.97" cy="503.80" r="9.90"/></g><g fill="#000000"><circle cx="797.54" cy="80.40" r="9.90"/><circle cx="823.36" cy="301.96" r="9.90"/><circle cx="849.19" cy="321.74" r="9.90"/><circle cx="875.01" cy="339.96" r="9.90"/><circle cx="900.84" cy="356.88" r="9.90"/><circle cx="926.67" cy="372.69" r="9.90"/><circle cx="952.49" cy="387.54" r="9.90"/><circle cx="978.32" cy="401.53" r="9.90"/><circle cx="1004.14" cy="414.75" r="9.90"/><circle cx="1029.97" cy="427.28" r="9.90"/><circle cx="1055.80" cy="439.16" r="9.90"/><circle cx="1081.62" cy="450.46" r="9.90"/><circle cx="1107.45" cy="461.20" r="9.90"/><circle cx="1133.27" cy="471.42" r="9.90"/><circle cx="1159.10" cy="481.15" r="9.90"/><circle cx="1184.93" cy="490.43" r="9.90"/></g><path d="M797.54,80.40 L798.05,85.40 L798.57,89.27 L799.09,92.54 L799.60,95.44 L800.12,98.08 L800.64,100.51 L801.15,102.78 L801.67,104.92 L802.19,106.95 L802.70,108.88 L803.22,110.74 L803.73,112.52 L804.25,114.24 L804.77,115.90 L805.28,117.52 L805.80,119.08 L806.32,120.60 L806.83,122.09 L807.35,123.53 L807.87,124.95 L808.38,126.33 L808.90,127.69 L809.42,129.01 L809.93,130.32 L810.45,131.59 L810.97,132.85 L811.48,134.08 L812.00,135.30 L812.52,136.49 L813.03,137.67 L813.55,138.83 L814.07,139.97 L814.58,141.10 L815.10,142.21 L815.61,143.31 L816.13,144.39 L816.65,145.46 L817.16,146.52 L817.68,147.56 L818.20,148.59 L818.71,149.61 L819.23,150.62 L819.75,151.62 L820.26,152.61 L820.78,153.59 L821.30,154.56 L821.81,155.52 L822.33,156.47 L822.85,157.41 L823.36,158.34 L823.88,159.27 L824.40,160.18 L824.91,161.09 L825.43,161.99 L825.95,162.89 L826.46,163.77 L826.98,164.65 L827.49,165.52 L828.01,166.39 L828.53,167.25 L829.04,168.10 L829.56,168.95 L830.08,169.79 L830.59,170.62 L831.11,171.45 L831.63,172.27 L832.14,173.09 L832.66,173.90 L833.18,174.70 L833.69,175.51 L834.21,176.30 L834.73,177.09 L835.24,177.88 L835.76,178.66 L836.28,179.43 L836.79,180.20 L837.31,180.97 L837.83,181.73 L838.34,182.49 L838.86,183.24 L839.37,183.99 L839.89,184.74 L840.41,185.48 L840.92,186.22 L841.44,186.95 L841.96,187.68 L842.47,188.40 L842.99,189.12 L843.51,189.84 L844.02,190.56 L844.54,191.27 L845.06,191.97 L845.57,192.68 L846.09,193.38 L846.61,194.07 L847.12,194.76 L847.64,195.45 L848.16,196.14 L848.67,196.82 L849.19,197.50 L849.71,198.18 L850.22,198.86 L850.74,199.53 L851.25,200.20 L851.77,200.86 L852.29,201.52 L852.80,202.18 L853.32,202.84 L853.84,203.49 L854.35,204.14 L854.87,204.79 L855.39,205.44 L855.90,206.08 L856.42,206.72 L856.94,207.36 L857.45,207.99 L857.97,208.63 L858.49,209.26 L859.00,209.88 L859.52,210.51 L860.04,211.13 L860.55,211.75 L861.07,212.37 L861.59,212.99 L862.10,213.60 L862.62,214.21 L863.13,214.82 L863.65,215.43 L864.17,216.03 L864.68,216.64 L865.20,217.24 L865.72,217.84 L866.23,218.43 L866.75,219.03 L867.27,219.62 L867.78,220.21 L868.30,220.80 L868.82,221.38 L869.33,221.97 L869.85,222.55 L870.37,223.13 L870.88,223.71 L871.40,224.28 L871.92,224.86 L872.43,225.43 L872.95,226.00 L873.46,226.57 L873.98,227.14 L874.50,227.70 L875.01,228.27 L875.53,228.83 L876.05,229.39 L876.56,229.95 L877.08,230.51 L877.60,231.06 L878.11,231.61 L878.63,232.17 L879.15,232.72 L879.66,233.26 L880.18,233.81 L880.70,234.36 L881.21,234.90 L881.73,235.44 L882.25,235.98 L882.76,236.52 L883.28,237.06 L883.80,237.59 L884.31,238.13 L884.83,238.66 L885.34,239.19 L885.86,239.72 L886.38,240.25 L886.89,240.78 L887.41,241.30 L887.93,241.83 L888.44,242.35 L888.96,242.87 L889.48,243.39 L889.99,243.91 L890.51,244.43 L891.03,244.94 L891.54,245.46 L892.06,245.97 L892.58,246.48 L893.09,246.99 L893.61,247.50 L894.13,248.01 L894.64,248.52 L895.16,249.02 L895.68,249.53 L896.19,250.03 L896.71,250.53 L897.22,251.03 L897.74,251.53 L898.26,252.03 L898.77,252.52 L899.29,253.02 L899.81,253.51 L900.32,254.00 L900.84,254.50 L901.36,254.99 L901.87,255.48 L902.39,255.96 L902.91,256.45 L903.42,256.94 L903.94,257.42 L904.46,257.90 L904.97,258.39 L905.49,258.87 L906.01,259.35 L906.52,259.83 L907.04,260.31 L907.56,260.78 L908.07,261.26 L908.59,261.73 L909.10,262.21 L909.62,262.68 L910.14,263.15 L910.65,263.62 L911.17,264.09 L911.69,264.56 L912.20,265.03 L912.72,265.49 L913.24,265.96 L913.75,266.42 L914.27,266.89 L914.79,267.35 L915.30,267.81 L915.82,268.27 L916.34,268.73 L916.85,269.19 L917.37,269.64 L917.89,270.10 L918.40,270.56 L918.92,271.01 L919.44,271.46 L919.95,271.92 L920.47,272.37 L920.98,272.82 L921.50,273.27 L922.02,273.72 L922.53,274.17 L923.05,274.61 L923.57,275.06 L924.08,275.50 L924.60,275.95 L925.12,276.39 L925.63,276.83 L926.15,277.28 L926.67,277.72 L927.18,278.16 L927.70,278.59 L928.22,279.03 L928.73,279.47 L929.25,279.91 L929.77,280.34 L930.28,280.78 L930.80,281.21 L931.32,281.64 L931.83,282.08 L932.35,282.51 L932.86,282.94 L933.38,283.37 L933.90,283.80 L934.41,284.22 L934.93,284.65 L935.45,285.08 L935.96,285.50 L936.48,285.93 L937.00,286.35 L937.51,286.78 L938.03,287.20 L938.55,287.62 L939.06,288.04 L939.58,288.46 L940.10,288.88 L940.61,289.30 L941.13,289.72 L941.65,290.13 L942.16,290.55 L942.68,290.96 L943.20,291.38 L943.71,291.79 L944.23,292.21 L944.74,292.62 L945.26,293.03 L945.78,293.44 L946.29,293.85 L946.81,294.26 L947.33,294.67 L947.84,295.08 L948.36,295.49 L948.88,295.89 L949.39,296.30 L949.91,296.70 L950.43,297.11 L950.94,297.51 L951.46,297.92 L951.98,298.32 L952.49,298.72 L953.01,299.12 L953.53,299.52 L954.04,299.92 L954.56,300.32 L955.08,300.72 L955.59,301.12 L956.11,301.51 L956.62,301.91 L957.14,302.31 L957.66,302.70 L958.17,303.10 L958.69,303.49 L959.21,303.88 L959.72,304.28 L960.24,304.67 L960.76,305.06 L961.27,305.45 L961.79,305.84 L962.31,306.23 L962.82,306.62 L963.34,307.00 L963.86,307.39 L964.37,307.78 L964.89,308.16 L965.41,308.55 L965.92,308.93 L966.44,309.32 L966.96,309.70 L967.47,310.09 L967.99,310.47 L968.50,310.85 L969.02,311.23 L969.54,311.61 L970.05,311.99 L970.57,312.37 L971.09,312.75 L971.60,313.13 L972.12,313.50 L972.64,313.88 L973.15,314.26 L973.67,314.63 L974.19,315.01 L974.70,315.38 L975.22,315.76 L975.74,316.13 L976.25,316.50 L976.77,316.88 L977.29,317.25 L977.80,317.62 L978.32,317.99 L978.84,318.36 L979.35,318.73 L979.87,319.10 L980.38,319.47 L980.90,319.83 L981.42,320.20 L981.93,320.57 L982.45,320.93 L982.97,321.30 L983.48,321.66 L984.00,322.03 L984.52,322.39 L985.03,322.76 L985.55,323.12 L986.07,323.48 L986.58,323.84 L987.10,324.20 L987.62,324.56 L988.13,324.92 L988.65,325.28 L989.17,325.64 L989.68,326.00 L990.20,326.36 L990.71,326.72 L991.23,327.07 L991.75,327.43 L992.26,327.79 L992.78,328.14 L993.30,328.50 L993.81,328.85 L994.33,329.21 L994.85,329.56 L995.36,329.91 L995.88,330.26 L996.40,330.62 L996.91,330.97 L997.43,331.32 L997.95,331.67 L998.46,332.02 L998.98,332.37 L999.50,332.72 L1000.01,333.07 L1000.53,333.41 L1001.05,333.76 L1001.56,334.11 L1002.08,334.45 L1002.59,334.80 L1003.11,335.15 L1003.63,335.49 L1004.14,335.84 L1004.66,336.18 L1005.18,336.52 L1005.69,336.87 L1006.21,337.21 L1006.73,337.55 L1007.24,337.89 L1007.76,338.23 L1008.28,338.57 L1008.79,338.91 L1009.31,339.25 L1009.83,339.59 L1010.34,339.93 L1010.86,340.27 L1011.38,340.61 L1011.89,340.95 L1012.41,341.28 L1012.93,341.62 L1013.44,341.96 L1013.96,342.29 L1014.47,342.63 L1014.99,342.96 L1015.51,343.30 L1016.02,343.63 L1016.54,343.96 L1017.06,344.30 L1017.57,344.63 L1018.09,344.96 L1018.61,345.29 L1019.12,345.62 L1019.64,345.96 L1020.16,346.29 L1020.67,346.62 L1021.19,346.94 L1021.71,347.27 L1022.22,347.60 L1022.74,347.93 L1023.26,348.26 L1023.77,348.59 L1024.29,348.91 L1024.81,349.24 L1025.32,349.57 L1025.84,349.89 L1026.35,350.22 L1026.87,350.54 L1027.39,350.87 L1027.90,351.19 L1028.42,351.51 L1028.94,351.84 L1029.45,352.16 L1029.97,352.48 L1030.49,352.80 L1031.00,353.12 L1031.52,353.44 L1032.04,353.77 L1032.55,354.09 L1033.07,354.41 L1033.59,354.72 L1034.10,355.04 L1034.62,355.36 L1035.14,355.68 L1035.65,356.00 L1036.17,356.32 L1036.69,356.63 L1037.20,356.95 L1037.72,357.27 L1038.23,357.58 L1038.75,357.90 L1039.27,358.21 L1039.78,358.53 L1040.30,358.84 L1040.82,359.15 L1041.33,359.47 L1041.85,359.78 L1042.37,360.09 L1042.88,360.41 L1043.40,360.72 L1043.92,361.03 L1044.43,361.34 L1044.95,361.65 L1045.47,361.96 L1045.98,362.27 L1046.50,362.58 L1047.02,362.89 L1047.53,363.20 L1048.05,363.51 L1048.57,363.81 L1049.08,364.12 L1049.60,364.43 L1050.11,364.74 L1050.63,365.04 L1051.15,365.35 L1051.66,365.66 L1052.18,365.96 L1052.70,366.27 L1053.21,366.57 L1053.73,366.87 L1054.25,367.18 L1054.76,367.48 L1055.28,367.79 L1055.80,368.09 L1056.31,368.39 L1056.83,368.69 L1057.35,368.99 L1057.86,369.30 L1058.38,369.60 L1058.90,369.90 L1059.41,370.20 L1059.93,370.50 L1060.45,370.80 L1060.96,371.10 L1061.48,371.40 L1061.99,371.69 L1062.51,371.99 L1063.03,372.29 L1063.54,372.59 L1064.06,372.88 L1064.58,373.18 L1065.09,373.48 L1065.61,373.77 L1066.13,374.07 L1066.64,374.36 L1067.16,374.66 L1067.68,374.95 L1068.19,375.25 L1068.71,375.54 L1069.23,375.84 L1069.74,376.13 L1070.26,376.42 L1070.78,376.71 L1071.29,377.01 L1071.81,377.30 L1072.33,377.59 L1072.84,377.88 L1073.36,378.17 L1073.87,378.46 L1074.39,378.75 L1074.91,379.04 L1075.42,379.33 L1075.94,379.62 L1076.46,379.91 L1076.97,380.20 L1077.49,380.49 L1078.01,380.78 L1078.52,381.06 L1079.04,381.35 L1079.56,381.64 L1080.07,381.92 L1080.59,382.21 L1081.11,382.50 L1081.62,382.78 L1082.14,383.07 L1082.66,383.35 L1083.17,383.64 L1083.69,383.92 L1084.21,384.20 L1084.72,384.49 L1085.24,384.77 L1085.75,385.05 L1086.27,385.34 L1086.79,385.62 L1087.30,385.90 L1087.82,386.18 L1088.34,386.46 L1088.85,386.75 L1089.37,387.03 L1089.89,387.31 L1090.40,387.59 L1090.92,387.87 L1091.44,388.15 L1091.95,388.42 L1092.47,388.70 L1092.99,388.98 L1093.50,389.26 L1094.02,389.54 L1094.54,389.82 L1095.05,390.09 L1095.57,390.37 L1096.09,390.65 L1096.60,390.92 L1097.12,391.20 L1097.63,391.48 L1098.15,391.75 L1098.67,392.03 L1099.18,392.30 L1099.70,392.58 L1100.22,392.85 L1100.73,393.12 L1101.25,393.40 L1101.77,393.67 L1102.28,393.94 L1102.80,394.22 L1103.32,394.49 L1103.83,394.76 L1104.35,395.03 L1104.87,395.30 L1105.38,395.58 L1105.90,395.85 L1106.42,396.12 L1106.93,396.39 L1107.45,396.66 L1107.97,396.93 L1108.48,397.20 L1109.00,397.47 L1109.51,397.73 L1110.03,398.00 L1110.55,398.27 L1111.06,398.54 L1111.58,398.81 L1112.10,399.08 L1112.61,399.34 L1113.13,399.61 L1113.65,399.88 L1114.16,400.14 L1114.68,400.41 L1115.20,400.67 L1115.71,400.94 L1116.23,401.20 L1116.75,401.47 L1117.26,401.73 L1117.78,402.00 L1118.30,402.26 L1118.81,402.53 L1119.33,402.79 L1119.85,403.05 L1120.36,403.31 L1120.88,403.58 L1121.39,403.84 L1121.91,404.10 L1122.43,404.36 L1122.94,404.62 L1123.46,404.89 L1123.98,405.15 L1124.49,405.41 L1125.01,405.67 L1125.53,405.93 L1126.04,406.19 L1126.56,406.45 L1127.08,406.71 L1127.59,406.97 L1128.11,407.22 L1128.63,407.48 L1129.14,407.74 L1129.66,408.00 L1130.18,408.26 L1130.69,408.51 L1131.21,408.77 L1131.72,409.03 L1132.24,409.28 L1132.76,409.54 L1133.27,409.80 L1133.79,410.05 L1134.31,410.31 L1134.82,410.56 L1135.34,410.82 L1135.86,411.07 L1136.37,411.33 L1136.89,411.58 L1137.41,411.83 L1137.92,412.09 L1138.44,412.34 L1138.96,412.59 L1139.47,412.85 L1139.99,413.10 L1140.51,413.35 L1141.02,413.60 L1141.54,413.86 L1142.06,414.11 L1142.57,414.36 L1143.09,414.61 L1143.60,414.86 L1144.12,415.11 L1144.64,415.36 L1145.15,415.61 L1145.67,415.86 L1146.19,416.11 L1146.70,416.36 L1147.22,416.61 L1147.74,416.86 L1148.25,417.10 L1148.77,417.35 L1149.29,417.60 L1149.80,417.85 L1150.32,418.09 L1150.84,418.34 L1151.35,418.59 L1151.87,418.83 L1152.39,419.08 L1152.90,419.33 L1153.42,419.57 L1153.94,419.82 L1154.45,420.06 L1154.97,420.31 L1155.48,420.55 L1156.00,420.80 L1156.52,421.04 L1157.03,421.29 L1157.55,421.53 L1158.07,421.77 L1158.58,422.02 L1159.10,422.26 L1159.62,422.50 L1160.13,422.75 L1160.65,422.99 L1161.17,423.23 L1161.68,423.47 L1162.20,423.71 L1162.72,423.95 L1163.23,424.20 L1163.75,424.44 L1164.27,424.68 L1164.78,424.92 L1165.30,425.16 L1165.82,425.40 L1166.33,425.64 L1166.85,425.88 L1167.36,426.12 L1167.88,426.35 L1168.40,426.59 L1168.91,426.83 L1169.43,427.07 L1169.95,427.31 L1170.46,427.54 L1170.98,427.78 L1171.50,428.02 L1172.01,428.26 L1172.53,428.49 L1173.05,428.73 L1173.56,428.97 L1174.08,429.20 L1174.60,429.44 L1175.11,429.67 L1175.63,429.91 L1176.15,430.14 L1176.66,430.38 L1177.18,430.61 L1177.70,430.85 L1178.21,431.08 L1178.73,431.31 L1179.24,431.55 L1179.76,431.78 L1180.28,432.01 L1180.79,432.25 L1181.31,432.48 L1181.83,432.71 L1182.34,432.95 L1182.86,433.18 L1183.38,433.41 L1183.89,433.64 L1184.41,433.87 L1184.93,434.10 L1185.44,434.33 L1185.96,434.56 L1186.48,434.79 L1186.99,435.03 L1187.51,435.25 L1188.03,435.48 L1188.54,435.71 L1189.06,435.94 L1189.58,436.17 L1190.09,436.40 L1190.61,436.63 L1191.12,436.86 L1191.64,437.09 L1192.16,437.31 L1192.67,437.54 L1193.19,437.77 L1193.71,438.00 L1194.22,438.22 L1194.74,438.45 L1195.26,438.68 L1195.77,438.90 L1196.29,439.13 L1196.81,439.35 L1197.32,439.58 L1197.84,439.81 L1198.36,440.03 L1198.87,440.26 L1199.39,440.48 L1199.91,440.71 L1200.42,440.93 L1200.94,441.15 L1201.46,441.38 L1201.97,441.60 L1202.49,441.82 L1203.00,442.05 L1203.52,442.27 L1204.04,442.49 L1204.55,442.72 L1205.07,442.94 L1205.59,443.16 L1206.10,443.38 L1206.62,443.60 L1207.14,443.83 L1207.65,444.05 L1208.17,444.27 L1208.69,444.49 L1209.20,444.71 L1209.72,444.93 L1210.24,445.15 L1210.75,445.37 L1211.27,445.59 L1211.79,445.81 L1212.30,446.03 L1212.82,446.25 L1213.34,446.47 L1213.85,446.69 L1214.37,446.90 L1214.88,447.12 L1215.40,447.34 L1215.92,447.56 L1216.43,447.78 L1216.95,447.99 L1217.47,448.21 L1217.98,448.43 L1218.50,448.64 L1219.02,448.86 L1219.53,449.08 L1220.05,449.29 L1220.57,449.51 L1221.08,449.72 L1221.60,449.94 L1222.12,450.16 L1222.63,450.37 L1223.15,450.59 L1223.67,450.80 L1224.18,451.01 L1224.70,451.23 L1225.22,451.44 L1225.73,451.66 L1226.25,451.87 L1226.76,452.08 L1227.28,452.30 L1227.80,452.51 L1228.31,452.72 L1228.83,452.94 L1229.35,453.15 L1229.86,453.36 L1230.38,453.57 L1230.90,453.78 L1231.41,454.00 L1231.93,454.21 L1232.45,454.42 L1232.96,454.63 L1233.48,454.84 L1234.00,455.05 L1234.51,455.26 L1235.03,455.47 L1235.55,455.68 L1236.06,455.89 L1236.58,456.10 L1237.10,456.31 L1237.61,456.52 L1238.13,456.73 L1238.64,456.94 L1239.16,457.14 L1239.68,457.35 L1240.19,457.56 L1240.71,457.77 L1241.23,457.98 L1241.74,458.18 L1242.26,458.39 L1242.78,458.60 L1243.29,458.81 L1243.81,459.01 L1244.33,459.22 L1244.84,459.43 L1245.36,459.63 L1245.88,459.84 L1246.39,460.04 L1246.91,460.25 L1247.43,460.45 L1247.94,460.66 L1248.46,460.86 L1248.97,461.07 L1249.49,461.27 L1250.01,461.48 L1250.52,461.68 L1251.04,461.89 L1251.56,462.09 L1252.07,462.29 L1252.59,462.50 L1253.11,462.70 L1253.62,462.90 L1254.14,463.11 L1254.66,463.31 L1255.17,463.51 L1255.69,463.71 L1256.21,463.92 L1256.72,464.12 L1257.24,464.32 L1257.76,464.52 L1258.27,464.72 L1258.79,464.92 L1259.31,465.12 L1259.82,465.32 L1260.34,465.52 L1260.85,465.72 L1261.37,465.92 L1261.89,466.12 L1262.40,466.32 L1262.92,466.52 L1263.44,466.72 L1263.95,466.92 L1264.47,467.12 L1264.99,467.32 L1265.50,467.52 L1266.02,467.72 L1266.54,467.92 L1267.05,468.11 L1267.57,468.31 L1268.09,468.51 L1268.60,468.71 L1269.12,468.90 L1269.64,469.10 L1270.15,469.30 L1270.67,469.49 L1271.19,469.69 L1271.70,469.89 L1272.22,470.08 L1272.73,470.28 L1273.25,470.48 L1273.77,470.67 L1274.28,470.87 L1274.80,471.06 L1275.32,471.26 L1275.83,471.45 L1276.35,471.65 L1276.87,471.84 L1277.38,472.04 L1277.90,472.23 L1278.42,472.42 L1278.93,472.62 L1279.45,472.81 L1279.97,473.00 L1280.48,473.20 L1281.00,473.39 L1281.52,473.58 L1282.03,473.78 L1282.55,473.97 L1283.07,474.16 L1283.58,474.35 L1284.10,474.55 L1284.61,474.74 L1285.13,474.93 L1285.65,475.12 L1286.16,475.31 L1286.68,475.50 L1287.20,475.69 L1287.71,475.88 L1288.23,476.07 L1288.75,476.26 L1289.26,476.45 L1289.78,476.64 L1290.30,476.83 L1290.81,477.02 L1291.33,477.21 L1291.85,477.40 L1292.36,477.59 L1292.88,477.78 L1293.40,477.97 L1293.91,478.16 L1294.43,478.35 L1294.95,478.53 L1295.46,478.72 L1295.98,478.91 L1296.49,479.10 L1297.01,479.29 L1297.53,479.47 L1298.04,479.66 L1298.56,479.85 L1299.08,480.03 L1299.59,480.22 L1300.11,480.41 L1300.63,480.59 L1301.14,480.78 L1301.66,480.96 L1302.18,481.15 L1302.69,481.34 L1303.21,481.52 L1303.73,481.71 L1304.24,481.89 L1304.76,482.08 L1305.28,482.26 L1305.79,482.45 L1306.31,482.63 L1306.83,482.81 L1307.34,483.00 L1307.86,483.18 L1308.37,483.36 L1308.89,483.55 L1309.41,483.73 L1309.92,483.91 L1310.44,484.10 L1310.96,484.28 L1311.47,484.46 L1311.99,484.65 L1312.51,484.83 L1313.02,485.01 L1313.54,485.19 L1314.06,485.37 L1314.57,485.55 L1315.09,485.74 L1315.61,485.92 L1316.12,486.10 L1316.64,486.28 L1317.16,486.46 L1317.67,486.64 L1318.19,486.82 L1318.71,487.00 L1319.22,487.18 L1319.74,487.36 L1320.25,487.54 L1320.77,487.72 L1321.29,487.90 L1321.80,488.08 L1322.32,488.26 L1322.84,488.44 L1323.35,488.62 L1323.87,488.79 L1324.39,488.97 L1324.90,489.15 L1325.42,489.33 L1325.94,489.51 L1326.45,489.68 L1326.97,489.86 L1327.49,490.04 L1328.00,490.22 L1328.52,490.39 L1329.04,490.57 L1329.55,490.75 L1330.07,490.92 L1330.59,491.10 L1331.10,491.28 L1331.62,491.45 L1332.13,491.63 L1332.65,491.80 L1333.17,491.98 L1333.68,492.15 L1334.20,492.33 L1334.72,492.50 L1335.23,492.68 L1335.75,492.85 L1336.27,493.03 L1336.78,493.20 L1337.30,493.38 L1337.82,493.55 L1338.33,493.72 L1338.85,493.90 L1339.37,494.07 L1339.88,494.24 L1340.40,494.42 L1340.92,494.59 L1341.43,494.76 L1341.95,494.94 L1342.47,495.11 L1342.98,495.28 L1343.50,495.45 L1344.01,495.63 L1344.53,495.80 L1345.05,495.97 L1345.56,496.14 L1346.08,496.31 L1346.60,496.48 L1347.11,496.65 L1347.63,496.83 L1348.15,497.00 L1348.66,497.17 L1349.18,497.34 L1349.70,497.51 L1350.21,497.68 L1350.73,497.85 L1351.25,498.02 L1351.76,498.19 L1352.28,498.36 L1352.80,498.53 L1353.31,498.70 L1353.83,498.86 L1354.35,499.03 L1354.86,499.20 L1355.38,499.37 L1355.89,499.54 L1356.41,499.71 L1356.93,499.88 L1357.44,500.04 L1357.96,500.21 L1358.48,500.38 L1358.99,500.55 L1359.51,500.71 L1360.03,500.88 L1360.54,501.05 L1361.06,501.21 L1361.58,501.38 L1362.09,501.55 L1362.61,501.71 L1363.13,501.88 L1363.64,502.05 L1364.16,502.21 L1364.68,502.38 L1365.19,502.54 L1365.71,502.71 L1366.23,502.87 L1366.74,503.04 L1367.26,503.20 L1367.77,503.37 L1368.29,503.53 L1368.81,503.70 L1369.32,503.86 L1369.84,504.03 L1370.36,504.19 L1370.87,504.35 L1371.39,504.52 L1371.91,504.68 L1372.42,504.84 L1372.94,505.01 L1373.46,505.17 L1373.97,505.33 L1374.49,505.50 L1375.01,505.66 L1375.52,505.82 L1376.04,505.98 L1376.56,506.15 L1377.07,506.31 L1377.59,506.47 L1378.11,506.63 L1378.62,506.79 L1379.14,506.95 L1379.65,507.11 L1380.17,507.28 L1380.69,507.44 L1381.20,507.60 L1381.72,507.76 L1382.24,507.92 L1382.75,508.08 L1383.27,508.24 L1383.79,508.40 L1384.30,508.56 L1384.82,508.72 L1385.34,508.88 L1385.85,509.04 L1386.37,509.20 L1386.89,509.36 L1387.40,509.52 L1387.92,509.67 L1388.44,509.83 L1388.95,509.99 L1389.47,510.15 L1389.98,510.31 L1390.40,510.43" fill="none" stroke="#ff0000" stroke-width="7.67" stroke-linecap="square" stroke-linejoin="round"/></g><g stroke="#000" fill="none"><line x1="822.85" y1="530.35" x2="822.85" y2="538.02" stroke-width="2.30"/><line x1="848.67" y1="530.35" x2="848.67" y2="538.02" stroke-width="2.30"/><line x1="874.50" y1="530.35" x2="874.50" y2="538.02" stroke-width="2.30"/><line x1="900.32" y1="530.35" x2="900.32" y2="538.02" stroke-width="2.30"/><line x1="926.15" y1="530.35" x2="926.15" y2="543.77" stroke-width="3.07"/><line x1="951.98" y1="530.35" x2="951.98" y2="538.02" stroke-width="2.30"/><line x1="977.80" y1="530.35" x2="977.80" y2="538.02" stroke-width="2.30"/><line x1="1003.63" y1="530.35" x2="1003.63" y2="538.02" stroke-width="2.30"/><line x1="1029.45" y1="530.35" x2="1029.45" y2="538.02" stroke-width="2.30"/><line x1="1055.28" y1="530.35" x2="1055.28" y2="543.77" stroke-width="3.07"/><line x1="1081.11" y1="530.35" x2="1081.11" y2="538.02" stroke-width="2.30"/><line x1="1106.93" y1="530.35" x2="1106.93" y2="538.02" stroke-width="2.30"/><line x1="1132.76" y1="530.35" x2="1132.76" y2="538.02" stroke-width="2.30"/><line x1="1158.58" y1="530.35" x2="1158.58" y2="538.02" stroke-width="2.30"/><line x1="1184.41" y1="530.35" x2="1184.41" y2="543.77" stroke-width="3.07"/><line x1="1210.24" y1="530.35" x2="1210.24" y2="538.02" stroke-width="2.30"/><line x1="1236.06" y1="530.35" x2="1236.06" y2="538.02" stroke-width="2.30"/><line x1="1261.89" y1="530.35" x2="1261.89" y2="538.02" stroke-width="2.30"/><line x1="1287.71" y1="530.35" x2="1287.71" y2="538.02" stroke-width="2.30"/><line x1="1313.54" y1="530.35" x2="1313.54" y2="543.77" stroke-width="3.07"/><line x1="1339.37" y1="530.35" x2="1339.37" y2="538.02" stroke-width="2.30"/><line x1="1365.19" y1="530.35" x2="1365.19" y2="538.02" stroke-width="2.30"/><line x1="1391.02" y1="530.35" x2="1391.02" y2="538.02" stroke-width="2.30"/><line x1="797.45" y1="523.92" x2="789.78" y2="523.92" stroke-width="2.30"/><line x1="797.45" y1="502.30" x2="784.03" y2="502.30" stroke-width="3.07"/><line x1="797.45" y1="480.69" x2="789.78" y2="480.69" stroke-width="2.30"/><line x1="797.45" y1="459.07" x2="789.78" y2="459.07" stroke-width="2.30"/><line x1="797.45" y1="437.46" x2="789.78" y2="437.46" stroke-width="2.30"/><line x1="797.45" y1="415.84" x2="789.78" y2="415.84" stroke-width="2.30"/><line x1="797.45" y1="394.23" x2="784.03" y2="394.23" stroke-width="3.07"/><line x1="797.45" y1="372.61" x2="789.78" y2="372.61" stroke-width="2.30"/><line x1="797.45" y1="351.00" x2="789.78" y2="351.00" stroke-width="2.30"/><line x1="797.45" y1="329.38" x2="789.78" y2="329.38" stroke-width="2.30"/><line x1="797.45" y1="307.76" x2="789.78" y2="307.76" stroke-width="2.30"/><line x1="797.45" y1="286.15" x2="784.03" y2="286.15" stroke-width="3.07"/><line x1="797.45" y1="264.54" x2="789.78" y2="264.54" stroke-width="2.30"/><line x1="797.45" y1="242.92" x2="789.78" y2="242.92" stroke-width="2.30"/><line x1="797.45" y1="221.31" x2="789.78" y2="221.31" stroke-width="2.30"/><line x1="797.45" y1="199.69" x2="789.78" y2="199.69" stroke-width="2.30"/><line x1="797.45" y1="178.07" x2="784.03" y2="178.07" stroke-width="3.07"/><line x1="797.45" y1="156.46" x2="789.78" y2="156.46" stroke-width="2.30"/><line x1="797.45" y1="134.84" x2="789.78" y2="134.84" stroke-width="2.30"/><line x1="797.45" y1="113.23" x2="789.78" y2="113.23" stroke-width="2.30"/><line x1="797.45" y1="91.61" x2="789.78" y2="91.61" stroke-width="2.30"/><line x1="797.45" y1="70.00" x2="784.03" y2="70.00" stroke-width="3.07"/></g><rect x="797.45" y="55.40" width="608.65" height="474.95" fill="none" stroke="#000" stroke-width="3.07" stroke-linejoin="miter"/><g font-family="'Liberation Sans', Arial, Helvetica, sans-serif" font-size="34.50" fill="#000"><text x="926.15" y="589.3" text-anchor="middle">250</text><text x="1055.28" y="589.3" text-anchor="middle">500</text><text x="1184.41" y="589.3" text-anchor="middle">750</text><text x="1313.54" y="589.3" text-anchor="middle">1000</text></g><text x="1101.78" y="641.2" text-anchor="middle" font-family="'Liberation Sans', Arial, Helvetica, sans-serif" font-size="41.45" fill="#000">Cycle number</text><text x="1101.78" y="32.9" text-anchor="middle" font-family="'Liberation Sans', Arial, Helvetica, sans-serif" font-size="45.3" fill="#000">Self-limiting</text><clipPath id="clip2"><rect x="1459.55" y="55.40" width="608.85" height="474.95"/></clipPath><g stroke="#000" stroke-width="1.88" stroke-dasharray="6.97 3.01" fill="none"><line x1="1596.14" y1="530.35" x2="1596.14" y2="55.40"/><line x1="1732.96" y1="530.35" x2="1732.96" y2="55.40"/><line x1="1869.79" y1="530.35" x2="1869.79" y2="55.40"/><line x1="2006.61" y1="530.35" x2="2006.61" y2="55.40"/><line x1="1459.55" y1="502.30" x2="2068.40" y2="502.30"/><line x1="1459.55" y1="394.23" x2="2068.40" y2="394.23"/><line x1="1459.55" y1="286.15" x2="2068.40" y2="286.15"/><line x1="1459.55" y1="178.07" x2="2068.40" y2="178.07"/><line x1="1459.55" y1="70.00" x2="2068.40" y2="70.00"/></g><g clip-path="url(#clip2)"><g fill="#0000ff"><circle cx="1459.87" cy="77.07" r="9.90"/><circle cx="1465.34" cy="79.20" r="9.90"/><circle cx="1470.81" cy="81.32" r="9.90"/><circle cx="1476.29" cy="83.43" r="9.90"/><circle cx="1481.76" cy="85.53" r="9.90"/><circle cx="1487.23" cy="87.61" r="9.90"/><circle cx="1492.70" cy="89.69" r="9.90"/><circle cx="1498.18" cy="91.76" r="9.90"/><circle cx="1503.65" cy="93.83" r="9.90"/><circle cx="1509.12" cy="95.89" r="9.90"/><circle cx="1514.60" cy="97.94" r="9.90"/><circle cx="1520.07" cy="100.00" r="9.90"/><circle cx="1525.54" cy="102.06" r="9.90"/><circle cx="1531.01" cy="104.11" r="9.90"/><circle cx="1536.49" cy="106.17" r="9.90"/><circle cx="1541.96" cy="108.23" r="9.90"/><circle cx="1547.43" cy="110.30" r="9.90"/><circle cx="1552.91" cy="112.38" r="9.90"/><circle cx="1558.38" cy="114.46" r="9.90"/><circle cx="1563.85" cy="116.56" r="9.90"/><circle cx="1569.33" cy="118.66" r="9.90"/><circle cx="1574.80" cy="120.78" r="9.90"/><circle cx="1580.27" cy="122.91" r="9.90"/><circle cx="1585.74" cy="125.06" r="9.90"/><circle cx="1591.22" cy="127.22" r="9.90"/><circle cx="1596.69" cy="129.41" r="9.90"/><circle cx="1602.16" cy="131.61" r="9.90"/><circle cx="1607.64" cy="133.83" r="9.90"/><circle cx="1613.11" cy="136.08" r="9.90"/><circle cx="1618.58" cy="138.35" r="9.90"/><circle cx="1624.05" cy="140.65" r="9.90"/><circle cx="1629.53" cy="142.97" r="9.90"/><circle cx="1635.00" cy="145.32" r="9.90"/><circle cx="1640.47" cy="147.68" r="9.90"/><circle cx="1645.95" cy="150.07" r="9.90"/><circle cx="1651.42" cy="152.48" r="9.90"/><circle cx="1656.89" cy="154.91" r="9.90"/><circle cx="1662.36" cy="157.36" r="9.90"/><circle cx="1667.84" cy="159.83" r="9.90"/><circle cx="1673.31" cy="162.31" r="9.90"/><circle cx="1678.78" cy="164.80" r="9.90"/><circle cx="1684.26" cy="167.31" r="9.90"/><circle cx="1689.73" cy="169.83" r="9.90"/><circle cx="1695.20" cy="172.36" r="9.90"/><circle cx="1700.67" cy="174.90" r="9.90"/><circle cx="1706.15" cy="177.46" r="9.90"/><circle cx="1711.62" cy="180.01" r="9.90"/><circle cx="1717.09" cy="182.58" r="9.90"/><circle cx="1722.57" cy="185.15" r="9.90"/><circle cx="1728.04" cy="187.73" r="9.90"/><circle cx="1733.51" cy="190.34" r="9.90"/><circle cx="1738.99" cy="192.99" r="9.90"/><circle cx="1744.46" cy="195.70" r="9.90"/><circle cx="1749.93" cy="198.47" r="9.90"/><circle cx="1755.40" cy="201.33" r="9.90"/><circle cx="1760.88" cy="204.29" r="9.90"/><circle cx="1766.35" cy="207.37" r="9.90"/><circle cx="1771.82" cy="210.57" r="9.90"/><circle cx="1777.30" cy="213.91" r="9.90"/><circle cx="1782.77" cy="217.41" r="9.90"/><circle cx="1788.24" cy="221.09" r="9.90"/><circle cx="1793.71" cy="224.95" r="9.90"/><circle cx="1799.19" cy="229.01" r="9.90"/><circle cx="1804.66" cy="233.29" r="9.90"/><circle cx="1810.13" cy="237.81" r="9.90"/><circle cx="1815.61" cy="242.57" r="9.90"/><circle cx="1821.08" cy="247.55" r="9.90"/><circle cx="1826.55" cy="252.65" r="9.90"/><circle cx="1832.02" cy="257.78" r="9.90"/><circle cx="1837.50" cy="262.87" r="9.90"/><circle cx="1842.97" cy="267.86" r="9.90"/><circle cx="1848.44" cy="272.69" r="9.90"/><circle cx="1853.92" cy="277.38" r="9.90"/><circle cx="1859.39" cy="282.01" r="9.90"/><circle cx="1864.86" cy="286.69" r="9.90"/><circle cx="1870.33" cy="291.50" r="9.90"/><circle cx="1875.81" cy="296.52" r="9.90"/><circle cx="1881.28" cy="301.75" r="9.90"/><circle cx="1886.75" cy="307.15" r="9.90"/><circle cx="1892.23" cy="312.71" r="9.90"/><circle cx="1897.70" cy="318.40" r="9.90"/><circle cx="1903.17" cy="324.20" r="9.90"/><circle cx="1908.65" cy="330.09" r="9.90"/><circle cx="1914.12" cy="336.06" r="9.90"/><circle cx="1919.59" cy="342.11" r="9.90"/><circle cx="1925.06" cy="348.23" r="9.90"/><circle cx="1930.54" cy="354.41" r="9.90"/><circle cx="1936.01" cy="360.67" r="9.90"/><circle cx="1941.48" cy="367.00" r="9.90"/><circle cx="1946.96" cy="373.39" r="9.90"/><circle cx="1952.43" cy="379.85" r="9.90"/><circle cx="1957.90" cy="386.38" r="9.90"/><circle cx="1963.37" cy="392.96" r="9.90"/><circle cx="1968.85" cy="399.60" r="9.90"/><circle cx="1974.32" cy="406.31" r="9.90"/><circle cx="1979.79" cy="413.07" r="9.90"/><circle cx="1985.27" cy="419.88" r="9.90"/><circle cx="1990.74" cy="426.75" r="9.90"/><circle cx="1996.21" cy="433.67" r="9.90"/><circle cx="2001.68" cy="440.65" r="9.90"/><circle cx="2007.16" cy="447.67" r="9.90"/><circle cx="2012.63" cy="454.74" r="9.90"/><circle cx="2018.10" cy="461.85" r="9.90"/><circle cx="2023.58" cy="469.01" r="9.90"/><circle cx="2029.05" cy="476.21" r="9.90"/><circle cx="2034.52" cy="483.45" r="9.90"/><circle cx="2039.99" cy="490.74" r="9.90"/><circle cx="2045.47" cy="498.05" r="9.90"/></g><g fill="#008000"><circle cx="1459.87" cy="77.07" r="9.90"/><circle cx="1473.55" cy="82.38" r="9.90"/><circle cx="1487.23" cy="87.61" r="9.90"/><circle cx="1500.91" cy="92.80" r="9.90"/><circle cx="1514.60" cy="97.94" r="9.90"/><circle cx="1528.28" cy="103.08" r="9.90"/><circle cx="1541.96" cy="108.23" r="9.90"/><circle cx="1555.64" cy="113.42" r="9.90"/><circle cx="1569.33" cy="118.66" r="9.90"/><circle cx="1583.01" cy="123.98" r="9.90"/><circle cx="1596.69" cy="129.41" r="9.90"/><circle cx="1610.37" cy="134.95" r="9.90"/><circle cx="1624.05" cy="140.65" r="9.90"/><circle cx="1637.74" cy="146.50" r="9.90"/><circle cx="1651.42" cy="152.48" r="9.90"/><circle cx="1665.10" cy="158.59" r="9.90"/><circle cx="1678.78" cy="164.80" r="9.90"/><circle cx="1692.47" cy="171.10" r="9.90"/><circle cx="1706.15" cy="177.46" r="9.90"/><circle cx="1719.83" cy="183.86" r="9.90"/><circle cx="1733.51" cy="190.34" r="9.90"/><circle cx="1747.19" cy="197.08" r="9.90"/><circle cx="1760.88" cy="204.29" r="9.90"/><circle cx="1774.56" cy="212.22" r="9.90"/><circle cx="1788.24" cy="221.09" r="9.90"/><circle cx="1801.92" cy="231.12" r="9.90"/><circle cx="1815.61" cy="242.57" r="9.90"/><circle cx="1829.29" cy="255.22" r="9.90"/><circle cx="1842.97" cy="267.86" r="9.90"/><circle cx="1856.65" cy="279.70" r="9.90"/><circle cx="1870.33" cy="291.50" r="9.90"/><circle cx="1884.02" cy="304.43" r="9.90"/><circle cx="1897.70" cy="318.40" r="9.90"/><circle cx="1911.38" cy="333.07" r="9.90"/><circle cx="1925.06" cy="348.21" r="9.90"/><circle cx="1938.75" cy="363.40" r="9.90"/><circle cx="1952.43" cy="379.00" r="9.90"/><circle cx="1966.11" cy="395.01" r="9.90"/><circle cx="1979.79" cy="411.38" r="9.90"/><circle cx="1993.48" cy="428.11" r="9.90"/><circle cx="2007.16" cy="445.16" r="9.90"/><circle cx="2020.84" cy="462.67" r="9.90"/><circle cx="2034.52" cy="480.45" r="9.90"/></g><g fill="#000000"><circle cx="1459.87" cy="77.07" r="9.90"/><circle cx="1487.23" cy="87.61" r="9.90"/><circle cx="1514.60" cy="97.94" r="9.90"/><circle cx="1541.96" cy="108.23" r="9.90"/><circle cx="1569.33" cy="118.66" r="9.90"/><circle cx="1596.69" cy="129.41" r="9.90"/><circle cx="1624.05" cy="140.65" r="9.90"/><circle cx="1651.42" cy="152.48" r="9.90"/><circle cx="1678.78" cy="164.80" r="9.90"/><circle cx="1706.15" cy="177.46" r="9.90"/><circle cx="1733.51" cy="190.33" r="9.90"/><circle cx="1760.88" cy="203.61" r="9.90"/><circle cx="1788.24" cy="219.74" r="9.90"/><circle cx="1815.61" cy="240.56" r="9.90"/><circle cx="1842.97" cy="265.35" r="9.90"/><circle cx="1870.33" cy="288.49" r="9.90"/><circle cx="1897.70" cy="314.89" r="9.90"/><circle cx="1925.06" cy="344.39" r="9.90"/><circle cx="1952.43" cy="375.68" r="9.90"/><circle cx="1979.79" cy="408.53" r="9.90"/><circle cx="2007.16" cy="441.17" r="9.90"/></g><path d="M1459.87,77.07 L1460.41,77.28 L1460.96,77.49 L1461.51,77.71 L1462.06,77.92 L1462.60,78.14 L1463.15,78.35 L1463.70,78.56 L1464.25,78.78 L1464.79,78.99 L1465.34,79.20 L1465.89,79.41 L1466.43,79.63 L1466.98,79.84 L1467.53,80.05 L1468.08,80.26 L1468.62,80.48 L1469.17,80.69 L1469.72,80.90 L1470.27,81.11 L1470.81,81.32 L1471.36,81.53 L1471.91,81.75 L1472.45,81.96 L1473.00,82.17 L1473.55,82.38 L1474.10,82.59 L1474.64,82.80 L1475.19,83.01 L1475.74,83.22 L1476.29,83.43 L1476.83,83.64 L1477.38,83.85 L1477.93,84.06 L1478.48,84.27 L1479.02,84.48 L1479.57,84.69 L1480.12,84.90 L1480.66,85.11 L1481.21,85.32 L1481.76,85.53 L1482.31,85.74 L1482.85,85.95 L1483.40,86.16 L1483.95,86.36 L1484.50,86.57 L1485.04,86.78 L1485.59,86.99 L1486.14,87.20 L1486.68,87.41 L1487.23,87.61 L1487.78,87.82 L1488.33,88.03 L1488.87,88.24 L1489.42,88.45 L1489.97,88.65 L1490.52,88.86 L1491.06,89.07 L1491.61,89.28 L1492.16,89.49 L1492.70,89.69 L1493.25,89.90 L1493.80,90.11 L1494.35,90.31 L1494.89,90.52 L1495.44,90.73 L1495.99,90.94 L1496.54,91.14 L1497.08,91.35 L1497.63,91.56 L1498.18,91.76 L1498.72,91.97 L1499.27,92.18 L1499.82,92.38 L1500.37,92.59 L1500.91,92.80 L1501.46,93.00 L1502.01,93.21 L1502.56,93.42 L1503.10,93.62 L1503.65,93.83 L1504.20,94.03 L1504.75,94.24 L1505.29,94.45 L1505.84,94.65 L1506.39,94.86 L1506.93,95.06 L1507.48,95.27 L1508.03,95.48 L1508.58,95.68 L1509.12,95.89 L1509.67,96.09 L1510.22,96.30 L1510.77,96.51 L1511.31,96.71 L1511.86,96.92 L1512.41,97.12 L1512.95,97.33 L1513.50,97.53 L1514.05,97.74 L1514.60,97.94 L1515.14,98.15 L1515.69,98.36 L1516.24,98.56 L1516.79,98.77 L1517.33,98.97 L1517.88,99.18 L1518.43,99.38 L1518.97,99.59 L1519.52,99.79 L1520.07,100.00 L1520.62,100.21 L1521.16,100.41 L1521.71,100.62 L1522.26,100.82 L1522.81,101.03 L1523.35,101.23 L1523.90,101.44 L1524.45,101.64 L1524.99,101.85 L1525.54,102.06 L1526.09,102.26 L1526.64,102.47 L1527.18,102.67 L1527.73,102.88 L1528.28,103.08 L1528.83,103.29 L1529.37,103.49 L1529.92,103.70 L1530.47,103.91 L1531.01,104.11 L1531.56,104.32 L1532.11,104.52 L1532.66,104.73 L1533.20,104.93 L1533.75,105.14 L1534.30,105.35 L1534.85,105.55 L1535.39,105.76 L1535.94,105.96 L1536.49,106.17 L1537.04,106.38 L1537.58,106.58 L1538.13,106.79 L1538.68,107.00 L1539.22,107.20 L1539.77,107.41 L1540.32,107.61 L1540.87,107.82 L1541.41,108.03 L1541.96,108.23 L1542.51,108.44 L1543.06,108.65 L1543.60,108.85 L1544.15,109.06 L1544.70,109.27 L1545.24,109.47 L1545.79,109.68 L1546.34,109.89 L1546.89,110.10 L1547.43,110.30 L1547.98,110.51 L1548.53,110.72 L1549.08,110.92 L1549.62,111.13 L1550.17,111.34 L1550.72,111.55 L1551.26,111.75 L1551.81,111.96 L1552.36,112.17 L1552.91,112.38 L1553.45,112.59 L1554.00,112.79 L1554.55,113.00 L1555.10,113.21 L1555.64,113.42 L1556.19,113.63 L1556.74,113.84 L1557.28,114.04 L1557.83,114.25 L1558.38,114.46 L1558.93,114.67 L1559.47,114.88 L1560.02,115.09 L1560.57,115.30 L1561.12,115.51 L1561.66,115.72 L1562.21,115.93 L1562.76,116.14 L1563.31,116.35 L1563.85,116.56 L1564.40,116.77 L1564.95,116.98 L1565.49,117.19 L1566.04,117.40 L1566.59,117.61 L1567.14,117.82 L1567.68,118.03 L1568.23,118.24 L1568.78,118.45 L1569.33,118.66 L1569.87,118.87 L1570.42,119.08 L1570.97,119.30 L1571.51,119.51 L1572.06,119.72 L1572.61,119.93 L1573.16,120.14 L1573.70,120.35 L1574.25,120.57 L1574.80,120.78 L1575.35,120.99 L1575.89,121.20 L1576.44,121.42 L1576.99,121.63 L1577.53,121.84 L1578.08,122.06 L1578.63,122.27 L1579.18,122.48 L1579.72,122.70 L1580.27,122.91 L1580.82,123.13 L1581.37,123.34 L1581.91,123.55 L1582.46,123.77 L1583.01,123.98 L1583.55,124.20 L1584.10,124.41 L1584.65,124.63 L1585.20,124.84 L1585.74,125.06 L1586.29,125.27 L1586.84,125.49 L1587.39,125.71 L1587.93,125.92 L1588.48,126.14 L1589.03,126.36 L1589.58,126.57 L1590.12,126.79 L1590.67,127.01 L1591.22,127.22 L1591.76,127.44 L1592.31,127.66 L1592.86,127.88 L1593.41,128.09 L1593.95,128.31 L1594.50,128.53 L1595.05,128.75 L1595.60,128.97 L1596.14,129.19 L1596.69,129.41 L1597.24,129.63 L1597.78,129.85 L1598.33,130.07 L1598.88,130.29 L1599.43,130.51 L1599.97,130.73 L1600.52,130.95 L1601.07,131.17 L1601.62,131.39 L1602.16,131.61 L1602.71,131.83 L1603.26,132.05 L1603.80,132.27 L1604.35,132.50 L1604.90,132.72 L1605.45,132.94 L1605.99,133.16 L1606.54,133.39 L1607.09,133.61 L1607.64,133.83 L1608.18,134.06 L1608.73,134.28 L1609.28,134.51 L1609.82,134.73 L1610.37,134.95 L1610.92,135.18 L1611.47,135.40 L1612.01,135.63 L1612.56,135.85 L1613.11,136.08 L1613.66,136.31 L1614.20,136.53 L1614.75,136.76 L1615.30,136.99 L1615.84,137.21 L1616.39,137.44 L1616.94,137.67 L1617.49,137.90 L1618.03,138.12 L1618.58,138.35 L1619.13,138.58 L1619.68,138.81 L1620.22,139.04 L1620.77,139.27 L1621.32,139.50 L1621.87,139.73 L1622.41,139.96 L1622.96,140.19 L1623.51,140.42 L1624.05,140.65 L1624.60,140.88 L1625.15,141.11 L1625.70,141.34 L1626.24,141.57 L1626.79,141.81 L1627.34,142.04 L1627.89,142.27 L1628.43,142.50 L1628.98,142.74 L1629.53,142.97 L1630.07,143.20 L1630.62,143.44 L1631.17,143.67 L1631.72,143.91 L1632.26,144.14 L1632.81,144.37 L1633.36,144.61 L1633.91,144.84 L1634.45,145.08 L1635.00,145.32 L1635.55,145.55 L1636.09,145.79 L1636.64,146.02 L1637.19,146.26 L1637.74,146.50 L1638.28,146.73 L1638.83,146.97 L1639.38,147.21 L1639.93,147.45 L1640.47,147.68 L1641.02,147.92 L1641.57,148.16 L1642.11,148.40 L1642.66,148.64 L1643.21,148.88 L1643.76,149.11 L1644.30,149.35 L1644.85,149.59 L1645.40,149.83 L1645.95,150.07 L1646.49,150.31 L1647.04,150.55 L1647.59,150.79 L1648.14,151.03 L1648.68,151.28 L1649.23,151.52 L1649.78,151.76 L1650.32,152.00 L1650.87,152.24 L1651.42,152.48 L1651.97,152.73 L1652.51,152.97 L1653.06,153.21 L1653.61,153.45 L1654.16,153.70 L1654.70,153.94 L1655.25,154.18 L1655.80,154.43 L1656.34,154.67 L1656.89,154.91 L1657.44,155.16 L1657.99,155.40 L1658.53,155.65 L1659.08,155.89 L1659.63,156.13 L1660.18,156.38 L1660.72,156.62 L1661.27,156.87 L1661.82,157.12 L1662.36,157.36 L1662.91,157.61 L1663.46,157.85 L1664.01,158.10 L1664.55,158.34 L1665.10,158.59 L1665.65,158.84 L1666.20,159.08 L1666.74,159.33 L1667.29,159.58 L1667.84,159.83 L1668.38,160.07 L1668.93,160.32 L1669.48,160.57 L1670.03,160.82 L1670.57,161.06 L1671.12,161.31 L1671.67,161.56 L1672.22,161.81 L1672.76,162.06 L1673.31,162.31 L1673.86,162.55 L1674.40,162.80 L1674.95,163.05 L1675.50,163.30 L1676.05,163.55 L1676.59,163.80 L1677.14,164.05 L1677.69,164.30 L1678.24,164.55 L1678.78,164.80 L1679.33,165.05 L1679.88,165.30 L1680.43,165.55 L1680.97,165.80 L1681.52,166.05 L1682.07,166.30 L1682.61,166.56 L1683.16,166.81 L1683.71,167.06 L1684.26,167.31 L1684.80,167.56 L1685.35,167.81 L1685.90,168.06 L1686.45,168.32 L1686.99,168.57 L1687.54,168.82 L1688.09,169.07 L1688.63,169.33 L1689.18,169.58 L1689.73,169.83 L1690.28,170.08 L1690.82,170.34 L1691.37,170.59 L1691.92,170.84 L1692.47,171.10 L1693.01,171.35 L1693.56,171.60 L1694.11,171.86 L1694.65,172.11 L1695.20,172.36 L1695.75,172.62 L1696.30,172.87 L1696.84,173.12 L1697.39,173.38 L1697.94,173.63 L1698.49,173.89 L1699.03,174.14 L1699.58,174.40 L1700.13,174.65 L1700.67,174.90 L1701.22,175.16 L1701.77,175.41 L1702.32,175.67 L1702.86,175.92 L1703.41,176.18 L1703.96,176.43 L1704.51,176.69 L1705.05,176.94 L1705.60,177.20 L1706.15,177.46 L1706.70,177.71 L1707.24,177.97 L1707.79,178.22 L1708.34,178.48 L1708.88,178.73 L1709.43,178.99 L1709.98,179.25 L1710.53,179.50 L1711.07,179.76 L1711.62,180.01 L1712.17,180.27 L1712.72,180.53 L1713.26,180.78 L1713.81,181.04 L1714.36,181.30 L1714.90,181.55 L1715.45,181.81 L1716.00,182.07 L1716.55,182.32 L1717.09,182.58 L1717.64,182.84 L1718.19,183.09 L1718.74,183.35 L1719.28,183.61 L1719.83,183.86 L1720.38,184.12 L1720.92,184.38 L1721.47,184.64 L1722.02,184.89 L1722.57,185.15 L1723.11,185.41 L1723.66,185.67 L1724.21,185.92 L1724.76,186.18 L1725.30,186.44 L1725.85,186.70 L1726.40,186.96 L1726.94,187.22 L1727.49,187.47 L1728.04,187.73 L1728.59,187.99 L1729.13,188.25 L1729.68,188.51 L1730.23,188.77 L1730.78,189.03 L1731.32,189.30 L1731.87,189.56 L1732.42,189.82 L1732.96,190.08 L1733.51,190.34 L1734.06,190.61 L1734.61,190.87 L1735.15,191.13 L1735.70,191.40 L1736.25,191.66 L1736.80,191.93 L1737.34,192.19 L1737.89,192.46 L1738.44,192.73 L1738.99,192.99 L1739.53,193.26 L1740.08,193.53 L1740.63,193.80 L1741.17,194.07 L1741.72,194.34 L1742.27,194.61 L1742.82,194.88 L1743.36,195.15 L1743.91,195.43 L1744.46,195.70 L1745.01,195.97 L1745.55,196.25 L1746.10,196.52 L1746.65,196.80 L1747.19,197.08 L1747.74,197.36 L1748.29,197.63 L1748.84,197.91 L1749.38,198.19 L1749.93,198.47 L1750.48,198.76 L1751.03,199.04 L1751.57,199.32 L1752.12,199.61 L1752.67,199.89 L1753.21,200.18 L1753.76,200.47 L1754.31,200.76 L1754.86,201.04 L1755.40,201.33 L1755.95,201.63 L1756.50,201.92 L1757.05,202.21 L1757.59,202.51 L1758.14,202.80 L1758.69,203.10 L1759.23,203.39 L1759.78,203.69 L1760.33,203.99 L1760.88,204.29 L1761.42,204.60 L1761.97,204.90 L1762.52,205.20 L1763.07,205.51 L1763.61,205.82 L1764.16,206.12 L1764.71,206.43 L1765.26,206.74 L1765.80,207.05 L1766.35,207.37 L1766.90,207.68 L1767.44,208.00 L1767.99,208.31 L1768.54,208.63 L1769.09,208.95 L1769.63,209.27 L1770.18,209.59 L1770.73,209.92 L1771.28,210.24 L1771.82,210.57 L1772.37,210.90 L1772.92,211.23 L1773.46,211.56 L1774.01,211.89 L1774.56,212.22 L1775.11,212.56 L1775.65,212.89 L1776.20,213.23 L1776.75,213.57 L1777.30,213.91 L1777.84,214.26 L1778.39,214.60 L1778.94,214.95 L1779.48,215.29 L1780.03,215.64 L1780.58,215.99 L1781.13,216.35 L1781.67,216.70 L1782.22,217.06 L1782.77,217.41 L1783.32,217.77 L1783.86,218.13 L1784.41,218.50 L1784.96,218.86 L1785.50,219.23 L1786.05,219.60 L1786.60,219.97 L1787.15,220.34 L1787.69,220.71 L1788.24,221.09 L1788.79,221.47 L1789.34,221.84 L1789.88,222.23 L1790.43,222.61 L1790.98,222.99 L1791.53,223.38 L1792.07,223.77 L1792.62,224.16 L1793.17,224.55 L1793.71,224.95 L1794.26,225.35 L1794.81,225.75 L1795.36,226.15 L1795.90,226.55 L1796.45,226.95 L1797.00,227.36 L1797.55,227.77 L1798.09,228.18 L1798.64,228.60 L1799.19,229.01 L1799.73,229.43 L1800.28,229.85 L1800.83,230.27 L1801.38,230.70 L1801.92,231.12 L1802.47,231.55 L1803.02,231.99 L1803.57,232.42 L1804.11,232.86 L1804.66,233.29 L1805.21,233.73 L1805.75,234.18 L1806.30,234.62 L1806.85,235.07 L1807.40,235.52 L1807.94,235.97 L1808.49,236.43 L1809.04,236.88 L1809.59,237.34 L1810.13,237.81 L1810.68,238.27 L1811.23,238.74 L1811.77,239.21 L1812.32,239.68 L1812.87,240.16 L1813.42,240.63 L1813.96,241.11 L1814.51,241.59 L1815.06,242.08 L1815.61,242.57 L1816.15,243.06 L1816.70,243.55 L1817.25,244.04 L1817.79,244.54 L1818.34,245.04 L1818.89,245.53 L1819.44,246.04 L1819.98,246.54 L1820.53,247.04 L1821.08,247.55 L1821.63,248.05 L1822.17,248.56 L1822.72,249.07 L1823.27,249.58 L1823.82,250.09 L1824.36,250.60 L1824.91,251.11 L1825.46,251.63 L1826.00,252.14 L1826.55,252.65 L1827.10,253.16 L1827.65,253.68 L1828.19,254.19 L1828.74,254.71 L1829.29,255.22 L1829.84,255.73 L1830.38,256.24 L1830.93,256.76 L1831.48,257.27 L1832.02,257.78 L1832.57,258.29 L1833.12,258.81 L1833.67,259.32 L1834.21,259.83 L1834.76,260.34 L1835.31,260.84 L1835.86,261.35 L1836.40,261.86 L1836.95,262.37 L1837.50,262.87 L1838.04,263.37 L1838.59,263.88 L1839.14,264.38 L1839.69,264.88 L1840.23,265.38 L1840.78,265.88 L1841.33,266.38 L1841.88,266.87 L1842.42,267.37 L1842.97,267.86 L1843.52,268.35 L1844.06,268.84 L1844.61,269.33 L1845.16,269.81 L1845.71,270.30 L1846.25,270.78 L1846.80,271.26 L1847.35,271.74 L1847.90,272.22 L1848.44,272.69 L1848.99,273.17 L1849.54,273.64 L1850.09,274.11 L1850.63,274.58 L1851.18,275.05 L1851.73,275.52 L1852.27,275.98 L1852.82,276.45 L1853.37,276.92 L1853.92,277.38 L1854.46,277.84 L1855.01,278.31 L1855.56,278.77 L1856.11,279.23 L1856.65,279.70 L1857.20,280.16 L1857.75,280.62 L1858.29,281.09 L1858.84,281.55 L1859.39,282.01 L1859.94,282.48 L1860.48,282.94 L1861.03,283.41 L1861.58,283.87 L1862.13,284.34 L1862.67,284.81 L1863.22,285.28 L1863.77,285.75 L1864.31,286.22 L1864.86,286.69 L1865.41,287.16 L1865.96,287.64 L1866.50,288.11 L1867.05,288.59 L1867.60,289.07 L1868.15,289.55 L1868.69,290.04 L1869.24,290.52 L1869.79,291.01 L1870.33,291.50 L1870.88,291.99 L1871.43,292.49 L1871.98,292.99 L1872.52,293.48 L1873.07,293.99 L1873.62,294.49 L1874.17,294.99 L1874.71,295.50 L1875.26,296.01 L1875.81,296.52 L1876.35,297.04 L1876.90,297.55 L1877.45,298.07 L1878.00,298.59 L1878.54,299.11 L1879.09,299.63 L1879.64,300.16 L1880.19,300.69 L1880.73,301.22 L1881.28,301.75 L1881.83,302.28 L1882.38,302.81 L1882.92,303.35 L1883.47,303.89 L1884.02,304.43 L1884.56,304.97 L1885.11,305.51 L1885.66,306.05 L1886.21,306.60 L1886.75,307.15 L1887.30,307.70 L1887.85,308.25 L1888.40,308.80 L1888.94,309.35 L1889.49,309.91 L1890.04,310.47 L1890.58,311.02 L1891.13,311.58 L1891.68,312.14 L1892.23,312.71 L1892.77,313.27 L1893.32,313.83 L1893.87,314.40 L1894.42,314.97 L1894.96,315.54 L1895.51,316.11 L1896.06,316.68 L1896.60,317.25 L1897.15,317.82 L1897.70,318.40 L1898.25,318.97 L1898.79,319.55 L1899.34,320.13 L1899.89,320.71 L1900.44,321.29 L1900.98,321.87 L1901.53,322.45 L1902.08,323.03 L1902.62,323.62 L1903.17,324.20 L1903.72,324.79 L1904.27,325.37 L1904.81,325.96 L1905.36,326.55 L1905.91,327.14 L1906.46,327.73 L1907.00,328.32 L1907.55,328.91 L1908.10,329.50 L1908.65,330.09 L1909.19,330.69 L1909.74,331.28 L1910.29,331.88 L1910.83,332.47 L1911.38,333.07 L1911.93,333.67 L1912.48,334.26 L1913.02,334.86 L1913.57,335.46 L1914.12,336.06 L1914.67,336.66 L1915.21,337.27 L1915.76,337.87 L1916.31,338.47 L1916.85,339.08 L1917.40,339.68 L1917.95,340.29 L1918.50,340.89 L1919.04,341.50 L1919.59,342.11 L1920.14,342.72 L1920.69,343.33 L1921.23,343.94 L1921.78,344.55 L1922.33,345.16 L1922.87,345.77 L1923.42,346.38 L1923.97,347.00 L1924.52,347.61 L1925.06,348.23 L1925.61,348.84 L1926.16,349.46 L1926.71,350.07 L1927.25,350.69 L1927.80,351.31 L1928.35,351.93 L1928.89,352.55 L1929.44,353.17 L1929.99,353.79 L1930.54,354.41 L1931.08,355.04 L1931.63,355.66 L1932.18,356.28 L1932.73,356.91 L1933.27,357.54 L1933.82,358.16 L1934.37,358.79 L1934.92,359.42 L1935.46,360.04 L1936.01,360.67 L1936.56,361.30 L1937.10,361.93 L1937.65,362.56 L1938.20,363.20 L1938.75,363.83 L1939.29,364.46 L1939.84,365.10 L1940.39,365.73 L1940.94,366.36 L1941.48,367.00 L1942.03,367.64 L1942.58,368.27 L1943.12,368.91 L1943.67,369.55 L1944.22,370.19 L1944.77,370.83 L1945.31,371.47 L1945.86,372.11 L1946.41,372.75 L1946.96,373.39 L1947.50,374.04 L1948.05,374.68 L1948.60,375.33 L1949.14,375.97 L1949.69,376.62 L1950.24,377.26 L1950.79,377.91 L1951.33,378.56 L1951.88,379.20 L1952.43,379.85 L1952.98,380.50 L1953.52,381.15 L1954.07,381.80 L1954.62,382.45 L1955.16,383.11 L1955.71,383.76 L1956.26,384.41 L1956.81,385.07 L1957.35,385.72 L1957.90,386.38 L1958.45,387.03 L1959.00,387.69 L1959.54,388.34 L1960.09,389.00 L1960.64,389.66 L1961.18,390.32 L1961.73,390.98 L1962.28,391.64 L1962.83,392.30 L1963.37,392.96 L1963.92,393.62 L1964.47,394.28 L1965.02,394.95 L1965.56,395.61 L1966.11,396.27 L1966.66,396.94 L1967.21,397.60 L1967.75,398.27 L1968.30,398.94 L1968.85,399.60 L1969.39,400.27 L1969.94,400.94 L1970.49,401.61 L1971.04,402.28 L1971.58,402.95 L1972.13,403.62 L1972.68,404.29 L1973.23,404.96 L1973.77,405.63 L1974.32,406.31 L1974.87,406.98 L1975.41,407.65 L1975.96,408.33 L1976.51,409.00 L1977.06,409.68 L1977.60,410.36 L1978.15,411.03 L1978.70,411.71 L1979.25,412.39 L1979.79,413.07 L1980.34,413.75 L1980.89,414.43 L1981.43,415.11 L1981.98,415.79 L1982.53,416.47 L1983.08,417.15 L1983.62,417.83 L1984.17,418.52 L1984.72,419.20 L1985.27,419.88 L1985.81,420.57 L1986.36,421.25 L1986.91,421.94 L1987.45,422.62 L1988.00,423.31 L1988.55,424.00 L1989.10,424.69 L1989.64,425.37 L1990.19,426.06 L1990.74,426.75 L1991.29,427.44 L1991.83,428.13 L1992.38,428.82 L1992.93,429.52 L1993.48,430.21 L1994.02,430.90 L1994.57,431.59 L1995.12,432.29 L1995.66,432.98 L1996.21,433.67 L1996.76,434.37 L1997.31,435.06 L1997.85,435.76 L1998.40,436.46 L1998.95,437.15 L1999.50,437.85 L2000.04,438.55 L2000.59,439.25 L2001.14,439.95 L2001.68,440.65 L2002.23,441.35 L2002.78,442.05 L2003.33,442.75 L2003.87,443.45 L2004.42,444.15 L2004.97,444.85 L2005.52,445.56 L2006.06,446.26 L2006.61,446.96 L2007.16,447.67 L2007.70,448.37 L2008.25,449.08 L2008.80,449.78 L2009.35,450.49 L2009.89,451.20 L2010.44,451.90 L2010.99,452.61 L2011.54,453.32 L2012.08,454.03 L2012.63,454.74 L2013.18,455.45 L2013.72,456.16 L2014.27,456.87 L2014.82,457.58 L2015.37,458.29 L2015.91,459.00 L2016.46,459.71 L2017.01,460.42 L2017.56,461.14 L2018.10,461.85 L2018.65,462.57 L2019.20,463.28 L2019.74,463.99 L2020.29,464.71 L2020.84,465.43 L2021.39,466.14 L2021.93,466.86 L2022.48,467.57 L2023.03,468.29 L2023.58,469.01 L2024.12,469.73 L2024.67,470.45 L2025.22,471.17 L2025.77,471.89 L2026.31,472.61 L2026.86,473.33 L2027.41,474.05 L2027.95,474.77 L2028.50,475.49 L2029.05,476.21 L2029.60,476.93 L2030.14,477.66 L2030.69,478.38 L2031.24,479.10 L2031.79,479.83 L2032.33,480.55 L2032.88,481.28 L2033.43,482.00 L2033.97,482.73 L2034.52,483.45 L2035.07,484.18 L2035.62,484.91 L2036.16,485.63 L2036.71,486.36 L2037.26,487.09 L2037.81,487.82 L2038.35,488.55 L2038.90,489.28 L2039.45,490.01 L2039.99,490.74 L2040.54,491.47 L2041.09,492.20 L2041.64,492.93 L2042.18,493.66 L2042.73,494.39 L2043.28,495.12 L2043.83,495.86 L2044.37,496.59 L2044.92,497.32 L2045.47,498.05 L2046.01,498.79 L2046.56,499.52 L2047.11,500.26 L2047.66,500.99 L2048.20,501.73 L2048.75,502.46 L2049.30,503.20 L2049.85,503.94 L2050.39,504.67 L2050.94,505.41 L2051.49,506.15 L2051.87,506.66" fill="none" stroke="#ff0000" stroke-width="7.67" stroke-linecap="square" stroke-linejoin="round"/></g><g stroke="#000" fill="none"><line x1="1486.68" y1="530.35" x2="1486.68" y2="538.02" stroke-width="2.30"/><line x1="1514.05" y1="530.35" x2="1514.05" y2="538.02" stroke-width="2.30"/><line x1="1541.41" y1="530.35" x2="1541.41" y2="538.02" stroke-width="2.30"/><line x1="1568.78" y1="530.35" x2="1568.78" y2="538.02" stroke-width="2.30"/><line x1="1596.14" y1="530.35" x2="1596.14" y2="543.77" stroke-width="3.07"/><line x1="1623.51" y1="530.35" x2="1623.51" y2="538.02" stroke-width="2.30"/><line x1="1650.87" y1="530.35" x2="1650.87" y2="538.02" stroke-width="2.30"/><line x1="1678.24" y1="530.35" x2="1678.24" y2="538.02" stroke-width="2.30"/><line x1="1705.60" y1="530.35" x2="1705.60" y2="538.02" stroke-width="2.30"/><line x1="1732.96" y1="530.35" x2="1732.96" y2="543.77" stroke-width="3.07"/><line x1="1760.33" y1="530.35" x2="1760.33" y2="538.02" stroke-width="2.30"/><line x1="1787.69" y1="530.35" x2="1787.69" y2="538.02" stroke-width="2.30"/><line x1="1815.06" y1="530.35" x2="1815.06" y2="538.02" stroke-width="2.30"/><line x1="1842.42" y1="530.35" x2="1842.42" y2="538.02" stroke-width="2.30"/><line x1="1869.79" y1="530.35" x2="1869.79" y2="543.77" stroke-width="3.07"/><line x1="1897.15" y1="530.35" x2="1897.15" y2="538.02" stroke-width="2.30"/><line x1="1924.52" y1="530.35" x2="1924.52" y2="538.02" stroke-width="2.30"/><line x1="1951.88" y1="530.35" x2="1951.88" y2="538.02" stroke-width="2.30"/><line x1="1979.25" y1="530.35" x2="1979.25" y2="538.02" stroke-width="2.30"/><line x1="2006.61" y1="530.35" x2="2006.61" y2="543.77" stroke-width="3.07"/><line x1="2033.97" y1="530.35" x2="2033.97" y2="538.02" stroke-width="2.30"/><line x1="2061.34" y1="530.35" x2="2061.34" y2="538.02" stroke-width="2.30"/><line x1="1459.55" y1="523.92" x2="1451.88" y2="523.92" stroke-width="2.30"/><line x1="1459.55" y1="502.30" x2="1446.13" y2="502.30" stroke-width="3.07"/><line x1="1459.55" y1="480.69" x2="1451.88" y2="480.69" stroke-width="2.30"/><line x1="1459.55" y1="459.07" x2="1451.88" y2="459.07" stroke-width="2.30"/><line x1="1459.55" y1="437.46" x2="1451.88" y2="437.46" stroke-width="2.30"/><line x1="1459.55" y1="415.84" x2="1451.88" y2="415.84" stroke-width="2.30"/><line x1="1459.55" y1="394.23" x2="1446.13" y2="394.23" stroke-width="3.07"/><line x1="1459.55" y1="372.61" x2="1451.88" y2="372.61" stroke-width="2.30"/><line x1="1459.55" y1="351.00" x2="1451.88" y2="351.00" stroke-width="2.30"/><line x1="1459.55" y1="329.38" x2="1451.88" y2="329.38" stroke-width="2.30"/><line x1="1459.55" y1="307.76" x2="1451.88" y2="307.76" stroke-width="2.30"/><line x1="1459.55" y1="286.15" x2="1446.13" y2="286.15" stroke-width="3.07"/><line x1="1459.55" y1="264.54" x2="1451.88" y2="264.54" stroke-width="2.30"/><line x1="1459.55" y1="242.92" x2="1451.88" y2="242.92" stroke-width="2.30"/><line x1="1459.55" y1="221.31" x2="1451.88" y2="221.31" stroke-width="2.30"/><line x1="1459.55" y1="199.69" x2="1451.88" y2="199.69" stroke-width="2.30"/><line x1="1459.55" y1="178.07" x2="1446.13" y2="178.07" stroke-width="3.07"/><line x1="1459.55" y1="156.46" x2="1451.88" y2="156.46" stroke-width="2.30"/><line x1="1459.55" y1="134.84" x2="1451.88" y2="134.84" stroke-width="2.30"/><line x1="1459.55" y1="113.23" x2="1451.88" y2="113.23" stroke-width="2.30"/><line x1="1459.55" y1="91.61" x2="1451.88" y2="91.61" stroke-width="2.30"/><line x1="1459.55" y1="70.00" x2="1446.13" y2="70.00" stroke-width="3.07"/></g><rect x="1459.55" y="55.40" width="608.85" height="474.95" fill="none" stroke="#000" stroke-width="3.07" stroke-linejoin="miter"/><g font-family="'Liberation Sans', Arial, Helvetica, sans-serif" font-size="34.50" fill="#000"><text x="1596.14" y="589.3" text-anchor="middle">250</text><text x="1732.96" y="589.3" text-anchor="middle">500</text><text x="1869.79" y="589.3" text-anchor="middle">750</text><text x="2006.61" y="589.3" text-anchor="middle">1000</text></g><text x="1763.97" y="641.2" text-anchor="middle" font-family="'Liberation Sans', Arial, Helvetica, sans-serif" font-size="41.45" fill="#000">Cycle number</text><text x="1763.97" y="32.9" text-anchor="middle" font-family="'Liberation Sans', Arial, Helvetica, sans-serif" font-size="45.3" fill="#000">Accelerating</text><text transform="translate(30.7,293.4) rotate(-90)" text-anchor="middle" font-family="'Liberation Sans', Arial, Helvetica, sans-serif" font-size="41.45" fill="#000">Capacity [A.h]</text><line x1="236.7" y1="796.2" x2="319.7" y2="796.2" stroke="#f00" stroke-width="7.67" stroke-linecap="square"/><circle cx="278.0" cy="858.9" r="9.90" fill="#00f"/><circle cx="1117.0" cy="799.8" r="9.90" fill="#008000"/><circle cx="1117.0" cy="859.3" r="9.90" fill="#000"/><g font-family="'Liberation Sans', Arial, Helvetica, sans-serif" font-size="41.45" fill="#000"><text x="352.7" y="810.9">full</text><text x="352.7" y="870.0">fixed-step extrapolation (10 cycles)</text><text x="1191.1" y="810.9">fixed-step extrapolation (25 cycles)</text><text x="1191.1" y="870.0">fixed-step extrapolation (50 cycles)</text></g></svg>
</div></body></html>
